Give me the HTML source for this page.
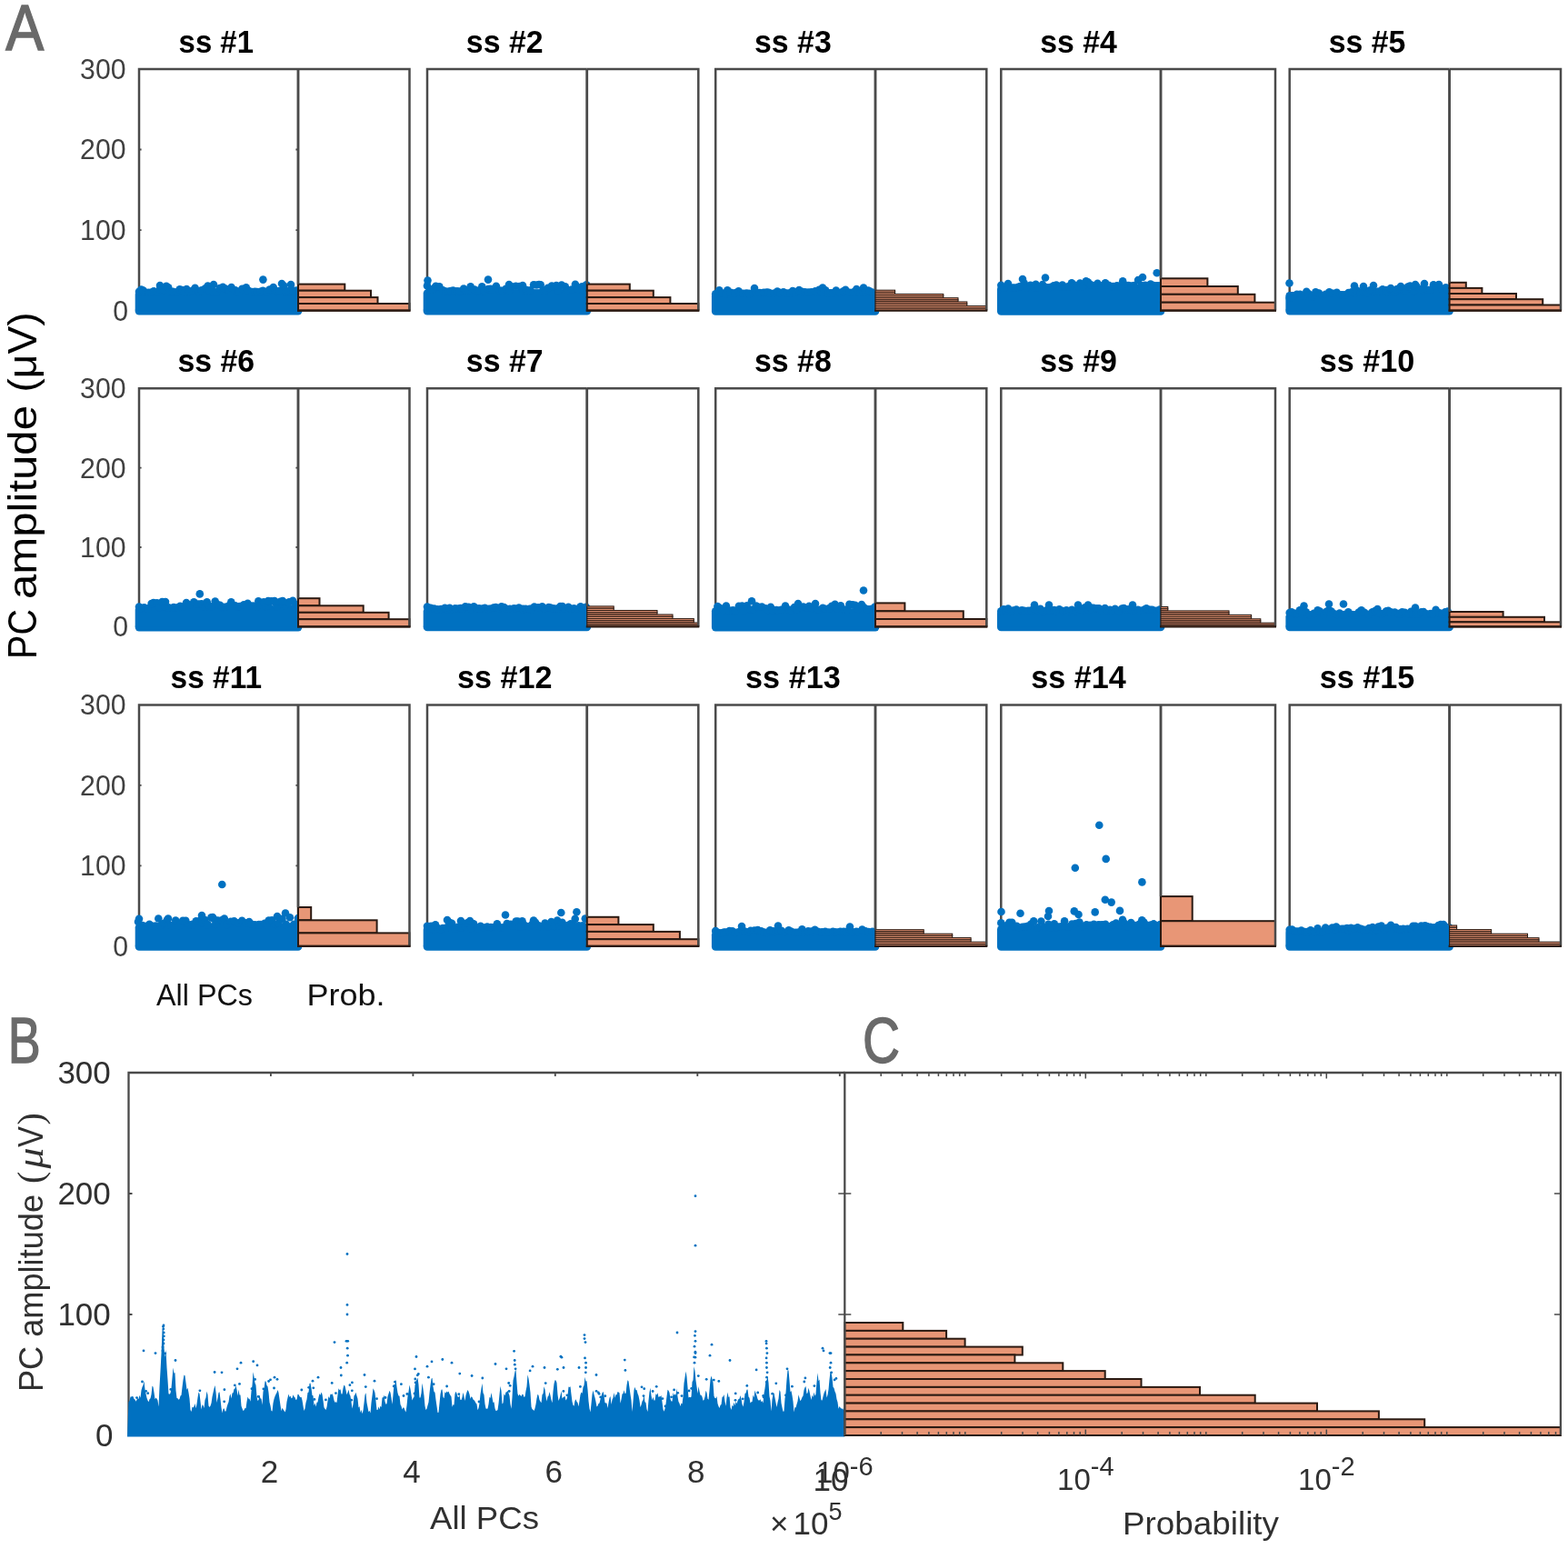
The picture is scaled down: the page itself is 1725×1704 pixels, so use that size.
<!DOCTYPE html><html><head><meta charset="utf-8"><title>Figure</title><style>html,body{margin:0;padding:0;background:#fff;}svg{display:block}.ttl{font-family:"Liberation Sans",Arial,sans-serif;font-weight:bold;font-size:35.2px;fill:#000}.tkA{font-family:"Liberation Sans",Arial,sans-serif;font-size:32px;fill:#404040}.tkB{font-family:"Liberation Sans",Arial,sans-serif;font-size:35px;fill:#303030}.tkS{font-family:"Liberation Sans",Arial,sans-serif;font-size:27px;fill:#303030}.tkC{font-family:"Liberation Sans",Arial,sans-serif;font-size:33px;fill:#303030}.tkCs{font-size:29px}.lbl{font-family:"Liberation Sans",Arial,sans-serif;font-size:34px;fill:#111}.big{font-family:"Liberation Sans",Arial,sans-serif;font-size:70px;fill:#6a6a6a;stroke:#6a6a6a;stroke-width:1.4px}.ylA{font-family:"Liberation Sans",Arial,sans-serif;font-size:43.5px;fill:#000}.ylB{font-family:"Liberation Sans",Arial,sans-serif;font-size:37px;fill:#303030}.tx{font-family:"Liberation Serif",serif;font-size:40px}</style></head><body><svg width="1725" height="1704" viewBox="0 0 1725 1704"><rect width="100%" height="100%" fill="#fff"/><text x="6.3" y="54.6" class="big" textLength="42" lengthAdjust="spacingAndGlyphs">A</text><text x="8.8" y="1168.6" class="big" textLength="36" lengthAdjust="spacingAndGlyphs">B</text><text x="949" y="1169.3" class="big" textLength="41" lengthAdjust="spacingAndGlyphs">C</text><text transform="translate(40 722.5) rotate(-90)" class="ylA" y="0"><tspan x="-2.5" textLength="55" lengthAdjust="spacingAndGlyphs">PC</tspan> <tspan x="63.5" textLength="213" lengthAdjust="spacingAndGlyphs">amplitude</tspan> <tspan x="291" textLength="88" lengthAdjust="spacingAndGlyphs">(μV)</tspan></text><path d="M153 341.6 V76 H328 M328 76 V341.6" stroke="#4a4a4a" stroke-width="2.5" fill="none"/><path d="M153 253.1 h2.6 M328 253.1 h-2.6 M153 164.5 h2.6 M328 164.5 h-2.6" stroke="#4a4a4a" stroke-width="1.8"/><rect x="148.7" y="319.5" width="183.6" height="27.1" rx="4.3" fill="#0071c1"/><polygon points="148.7,341.6 153,320.5 156,320.5 158.9,320.5 161.9,320.4 164.9,320.4 167.8,320.4 170.8,320.4 173.8,320.4 176.7,320.4 179.7,320.3 182.7,320.3 185.6,320.3 188.6,320.3 191.6,320.3 194.5,320.3 197.5,320.2 200.5,320.2 203.4,320.2 206.4,320.2 209.4,320.2 212.3,320.2 215.3,320.1 218.3,320.1 221.2,320.1 224.2,320.1 227.2,320.1 230.1,320.1 233.1,320 236.1,320 239,320 242,320 244.9,320 247.9,320 250.9,319.9 253.8,319.9 256.8,319.9 259.8,319.9 262.7,319.9 265.7,319.9 268.7,319.8 271.6,319.8 274.6,319.8 277.6,319.8 280.5,319.8 283.5,319.8 286.5,319.7 289.4,319.7 292.4,319.7 295.4,319.7 298.3,319.7 301.3,319.7 304.3,319.6 307.2,319.6 310.2,319.6 313.2,319.6 316.1,319.6 319.1,319.6 322.1,319.5 325,319.5 328,319.5 329.7,341.6" fill="#0071c1"/><g fill="#0071c1"><circle cx="153" cy="320.9" r="4.3"/><circle cx="155.4" cy="318.5" r="4.3"/><circle cx="157.6" cy="319.5" r="4.3"/><circle cx="160.5" cy="321.7" r="4.3"/><circle cx="163.7" cy="321.7" r="4.3"/><circle cx="166.8" cy="321.7" r="4.3"/><circle cx="169.1" cy="320.2" r="4.3"/><circle cx="173.1" cy="321.5" r="4.3"/><circle cx="175.7" cy="318.6" r="4.3"/><circle cx="180" cy="319" r="4.3"/><circle cx="183" cy="314.9" r="4.3"/><circle cx="185.2" cy="316.3" r="4.3"/><circle cx="187.9" cy="321.4" r="4.3"/><circle cx="190.2" cy="320.7" r="4.3"/><circle cx="194.2" cy="321.2" r="4.3"/><circle cx="197.7" cy="318.4" r="4.3"/><circle cx="200.6" cy="319.1" r="4.3"/><circle cx="202.8" cy="321.5" r="4.3"/><circle cx="205.3" cy="318" r="4.3"/><circle cx="208.3" cy="320.6" r="4.3"/><circle cx="211.8" cy="319.8" r="4.3"/><circle cx="214.6" cy="316.8" r="4.3"/><circle cx="218.3" cy="320.9" r="4.3"/><circle cx="221.7" cy="319.2" r="4.3"/><circle cx="225.9" cy="317.4" r="4.3"/><circle cx="228.6" cy="314.6" r="4.3"/><circle cx="230.9" cy="319.9" r="4.3"/><circle cx="234.8" cy="321.1" r="4.3"/><circle cx="238.1" cy="321.3" r="4.3"/><circle cx="241.7" cy="317" r="4.3"/><circle cx="245.2" cy="315.8" r="4.3"/><circle cx="247.9" cy="317.6" r="4.3"/><circle cx="251.4" cy="318.6" r="4.3"/><circle cx="254.6" cy="316.1" r="4.3"/><circle cx="258.9" cy="319.4" r="4.3"/><circle cx="262.6" cy="321.1" r="4.3"/><circle cx="266.3" cy="317.9" r="4.3"/><circle cx="270.8" cy="316.2" r="4.3"/><circle cx="273.5" cy="319.8" r="4.3"/><circle cx="277.2" cy="321.1" r="4.3"/><circle cx="280.4" cy="320.8" r="4.3"/><circle cx="282.7" cy="321" r="4.3"/><circle cx="286.6" cy="320.9" r="4.3"/><circle cx="289.2" cy="319.7" r="4.3"/><circle cx="293.4" cy="320.9" r="4.3"/><circle cx="296.5" cy="318.6" r="4.3"/><circle cx="300.7" cy="316.1" r="4.3"/><circle cx="304.9" cy="320.2" r="4.3"/><circle cx="307.9" cy="319.8" r="4.3"/><circle cx="312.1" cy="314.4" r="4.3"/><circle cx="314.5" cy="320.6" r="4.3"/><circle cx="317.1" cy="320.3" r="4.3"/><circle cx="320.3" cy="318.1" r="4.3"/><circle cx="322.9" cy="320.8" r="4.3"/><circle cx="326" cy="319.6" r="4.3"/><circle cx="289.4" cy="307.6" r="4.3"/><circle cx="310" cy="312" r="4.3"/><circle cx="320" cy="313" r="4.3"/><circle cx="176" cy="314" r="4.3"/><circle cx="235" cy="313" r="4.3"/></g><g fill="#e89676" stroke="#2b1a12" stroke-width="2"><rect x="328" y="312.6" width="51.3" height="7.1"/><rect x="328" y="319.7" width="80" height="7.4"/><rect x="328" y="327.1" width="87.5" height="6.9"/><rect x="328" y="334" width="122.5" height="7.6"/></g><path d="M328 76 H450.5 V341.6" stroke="#4a4a4a" stroke-width="2.5" fill="none"/><path d="M328 76 V312.6" stroke="#4a4a4a" stroke-width="2.5" fill="none"/><path d="M327 341.6 H451.5" stroke="#2b1a12" stroke-width="2.2"/><text x="237.8" y="57.8" text-anchor="middle" class="ttl" textLength="82.4" lengthAdjust="spacingAndGlyphs">ss #1</text><text x="141" y="352.5" text-anchor="end" class="tkA" textLength="16.8" lengthAdjust="spacingAndGlyphs">0</text><text x="138.5" y="264" text-anchor="end" class="tkA" textLength="50.4" lengthAdjust="spacingAndGlyphs">100</text><text x="138.5" y="175.4" text-anchor="end" class="tkA" textLength="50.4" lengthAdjust="spacingAndGlyphs">200</text><text x="138.5" y="86.9" text-anchor="end" class="tkA" textLength="50.4" lengthAdjust="spacingAndGlyphs">300</text><path d="M470 341.6 V76 H645.8 M645.8 76 V341.6" stroke="#4a4a4a" stroke-width="2.5" fill="none"/><rect x="465.7" y="318.2" width="184.4" height="28.4" rx="4.3" fill="#0071c1"/><polygon points="465.7,341.6 470,319.5 473,319.5 476,319.4 478.9,319.4 481.9,319.4 484.9,319.4 487.9,319.3 490.9,319.3 493.8,319.3 496.8,319.3 499.8,319.2 502.8,319.2 505.8,319.2 508.7,319.2 511.7,319.1 514.7,319.1 517.7,319.1 520.7,319.1 523.6,319 526.6,319 529.6,319 532.6,319 535.6,318.9 538.5,318.9 541.5,318.9 544.5,318.9 547.5,318.8 550.5,318.8 553.4,318.8 556.4,318.8 559.4,318.7 562.4,318.7 565.3,318.7 568.3,318.7 571.3,318.6 574.3,318.6 577.3,318.6 580.2,318.6 583.2,318.5 586.2,318.5 589.2,318.5 592.2,318.5 595.1,318.4 598.1,318.4 601.1,318.4 604.1,318.4 607.1,318.3 610,318.3 613,318.3 616,318.3 619,318.2 622,318.2 624.9,318.2 627.9,318.2 630.9,318.1 633.9,318.1 636.9,318.1 639.8,318.1 642.8,318 645.8,318 647.5,341.6" fill="#0071c1"/><g fill="#0071c1"><circle cx="470" cy="314.4" r="4.3"/><circle cx="473.7" cy="318.6" r="4.3"/><circle cx="477.3" cy="317.3" r="4.3"/><circle cx="479.4" cy="314.9" r="4.3"/><circle cx="483.4" cy="315.2" r="4.3"/><circle cx="487.3" cy="319.3" r="4.3"/><circle cx="490.3" cy="320.5" r="4.3"/><circle cx="493.9" cy="320.5" r="4.3"/><circle cx="496.1" cy="320.1" r="4.3"/><circle cx="498.5" cy="319.5" r="4.3"/><circle cx="500.6" cy="320.5" r="4.3"/><circle cx="503" cy="320.4" r="4.3"/><circle cx="505.9" cy="320.5" r="4.3"/><circle cx="510.1" cy="317.5" r="4.3"/><circle cx="512.5" cy="319.8" r="4.3"/><circle cx="515.4" cy="319.3" r="4.3"/><circle cx="517.7" cy="315.2" r="4.3"/><circle cx="522.1" cy="318.6" r="4.3"/><circle cx="525.4" cy="320.2" r="4.3"/><circle cx="527.6" cy="319.3" r="4.3"/><circle cx="530.3" cy="315.3" r="4.3"/><circle cx="532.7" cy="320.2" r="4.3"/><circle cx="537" cy="318" r="4.3"/><circle cx="539.4" cy="317.9" r="4.3"/><circle cx="541.5" cy="318" r="4.3"/><circle cx="545.9" cy="314.8" r="4.3"/><circle cx="549.7" cy="319.5" r="4.3"/><circle cx="552.6" cy="319.8" r="4.3"/><circle cx="556.5" cy="317.8" r="4.3"/><circle cx="560.5" cy="319.1" r="4.3"/><circle cx="563" cy="315.2" r="4.3"/><circle cx="567.5" cy="314.7" r="4.3"/><circle cx="571.5" cy="315" r="4.3"/><circle cx="575.3" cy="319.4" r="4.3"/><circle cx="578.6" cy="318.8" r="4.3"/><circle cx="580.7" cy="319.8" r="4.3"/><circle cx="583.4" cy="319.2" r="4.3"/><circle cx="587.1" cy="313.3" r="4.3"/><circle cx="590.3" cy="313.5" r="4.3"/><circle cx="594.7" cy="313.3" r="4.3"/><circle cx="597.6" cy="319.2" r="4.3"/><circle cx="600.2" cy="319.3" r="4.3"/><circle cx="602.7" cy="316.7" r="4.3"/><circle cx="607" cy="314.5" r="4.3"/><circle cx="610.2" cy="316.3" r="4.3"/><circle cx="614.2" cy="319.5" r="4.3"/><circle cx="617.8" cy="313.6" r="4.3"/><circle cx="621.8" cy="315.3" r="4.3"/><circle cx="625" cy="319.2" r="4.3"/><circle cx="628.9" cy="318.5" r="4.3"/><circle cx="632.9" cy="312.8" r="4.3"/><circle cx="635.9" cy="318" r="4.3"/><circle cx="640.3" cy="315.4" r="4.3"/><circle cx="642.7" cy="319.1" r="4.3"/><circle cx="645.1" cy="313.4" r="4.3"/><circle cx="470.5" cy="308.6" r="4.3"/><circle cx="537" cy="307.6" r="4.3"/><circle cx="560" cy="313" r="4.3"/><circle cx="575" cy="314" r="4.3"/><circle cx="593" cy="313" r="4.3"/><circle cx="612" cy="314" r="4.3"/></g><g fill="#e89676" stroke="#2b1a12" stroke-width="2"><rect x="645.8" y="312.6" width="47" height="7.1"/><rect x="645.8" y="319.7" width="73" height="7.4"/><rect x="645.8" y="327.1" width="91.6" height="6.9"/><rect x="645.8" y="334" width="122.5" height="7.6"/></g><path d="M645.8 76 H768.3 V341.6" stroke="#4a4a4a" stroke-width="2.5" fill="none"/><path d="M645.8 76 V312.6" stroke="#4a4a4a" stroke-width="2.5" fill="none"/><path d="M644.8 341.6 H769.3" stroke="#2b1a12" stroke-width="2.2"/><text x="555.2" y="57.8" text-anchor="middle" class="ttl" textLength="84.7" lengthAdjust="spacingAndGlyphs">ss #2</text><path d="M787.2 341.6 V76 H963 M963 76 V341.6" stroke="#4a4a4a" stroke-width="2.5" fill="none"/><rect x="782.9" y="320.8" width="184.4" height="25.9" rx="4.3" fill="#0071c1"/><polygon points="782.9,341.6 787.2,322 790.2,322 793.2,321.9 796.1,321.9 799.1,321.9 802.1,321.9 805.1,321.8 808.1,321.8 811,321.8 814,321.8 817,321.7 820,321.7 823,321.7 825.9,321.7 828.9,321.6 831.9,321.6 834.9,321.6 837.9,321.6 840.8,321.5 843.8,321.5 846.8,321.5 849.8,321.5 852.8,321.4 855.7,321.4 858.7,321.4 861.7,321.4 864.7,321.3 867.7,321.3 870.6,321.3 873.6,321.3 876.6,321.2 879.6,321.2 882.5,321.2 885.5,321.2 888.5,321.1 891.5,321.1 894.5,321.1 897.4,321.1 900.4,321 903.4,321 906.4,321 909.4,321 912.3,320.9 915.3,320.9 918.3,320.9 921.3,320.9 924.3,320.8 927.2,320.8 930.2,320.8 933.2,320.8 936.2,320.7 939.2,320.7 942.1,320.7 945.1,320.7 948.1,320.6 951.1,320.6 954.1,320.6 957,320.6 960,320.5 963,320.5 964.7,341.6" fill="#0071c1"/><g fill="#0071c1"><circle cx="787.2" cy="323.2" r="4.3"/><circle cx="791.3" cy="319.4" r="4.3"/><circle cx="794.9" cy="322.6" r="4.3"/><circle cx="798.3" cy="323.1" r="4.3"/><circle cx="800.3" cy="319.4" r="4.3"/><circle cx="803.9" cy="321.9" r="4.3"/><circle cx="808.3" cy="322.2" r="4.3"/><circle cx="812.5" cy="320.2" r="4.3"/><circle cx="815" cy="322.7" r="4.3"/><circle cx="817.7" cy="322.7" r="4.3"/><circle cx="821.2" cy="322.6" r="4.3"/><circle cx="824.2" cy="322.9" r="4.3"/><circle cx="828.5" cy="322.3" r="4.3"/><circle cx="831.6" cy="321.4" r="4.3"/><circle cx="835.9" cy="322" r="4.3"/><circle cx="840.2" cy="321.7" r="4.3"/><circle cx="843.5" cy="321.6" r="4.3"/><circle cx="845.6" cy="321.9" r="4.3"/><circle cx="848" cy="322.8" r="4.3"/><circle cx="852" cy="322.6" r="4.3"/><circle cx="855.2" cy="320.5" r="4.3"/><circle cx="858.6" cy="322.1" r="4.3"/><circle cx="861.9" cy="321.3" r="4.3"/><circle cx="865.9" cy="322.5" r="4.3"/><circle cx="869.3" cy="322.3" r="4.3"/><circle cx="872" cy="320.1" r="4.3"/><circle cx="875.2" cy="321.1" r="4.3"/><circle cx="879.1" cy="319.1" r="4.3"/><circle cx="882.2" cy="320.8" r="4.3"/><circle cx="885.5" cy="321.3" r="4.3"/><circle cx="889.2" cy="321.5" r="4.3"/><circle cx="892.6" cy="321.3" r="4.3"/><circle cx="896.9" cy="320.3" r="4.3"/><circle cx="901.1" cy="318.7" r="4.3"/><circle cx="903.8" cy="320.9" r="4.3"/><circle cx="908.1" cy="319.3" r="4.3"/><circle cx="910.5" cy="322.1" r="4.3"/><circle cx="913.6" cy="322.2" r="4.3"/><circle cx="916.2" cy="322.2" r="4.3"/><circle cx="919.8" cy="319.6" r="4.3"/><circle cx="924.1" cy="322" r="4.3"/><circle cx="927.9" cy="320.2" r="4.3"/><circle cx="930.2" cy="318.9" r="4.3"/><circle cx="934.7" cy="321.8" r="4.3"/><circle cx="939" cy="321.2" r="4.3"/><circle cx="942.3" cy="318" r="4.3"/><circle cx="946.3" cy="321.8" r="4.3"/><circle cx="949.4" cy="320.7" r="4.3"/><circle cx="952.3" cy="321.7" r="4.3"/><circle cx="955.1" cy="319.6" r="4.3"/><circle cx="957.1" cy="320.5" r="4.3"/><circle cx="960.2" cy="321.8" r="4.3"/><circle cx="905" cy="316.5" r="4.3"/><circle cx="950" cy="316.5" r="4.3"/><circle cx="830" cy="317" r="4.3"/></g><g fill="#e89676" stroke="#2b1a12" stroke-width="1.05"><rect x="963" y="319.2" width="21.6" height="2.2"/><rect x="963" y="321.4" width="21.6" height="2.1"/><rect x="963" y="323.5" width="74.8" height="2.1"/><rect x="963" y="325.6" width="74.8" height="2.1"/><rect x="963" y="327.7" width="91" height="2.2"/><rect x="963" y="329.9" width="91" height="2.1"/><rect x="963" y="332" width="100.8" height="2.3"/><rect x="963" y="334.3" width="100.8" height="2.3"/><rect x="963" y="336.6" width="122.3" height="2.5"/><rect x="963" y="339.1" width="122.3" height="2.5"/></g><path d="M963 76 H1085.3 V341.6" stroke="#4a4a4a" stroke-width="2.5" fill="none"/><path d="M963 76 V319.2" stroke="#4a4a4a" stroke-width="2.5" fill="none"/><path d="M962 341.6 H1086.3" stroke="#2b1a12" stroke-width="2.2"/><text x="872.4" y="57.8" text-anchor="middle" class="ttl" textLength="84.7" lengthAdjust="spacingAndGlyphs">ss #3</text><path d="M1101.3 341.6 V76 H1277 M1277 76 V341.6" stroke="#4a4a4a" stroke-width="2.5" fill="none"/><rect x="1097" y="313.8" width="184.3" height="32.9" rx="4.3" fill="#0071c1"/><polygon points="1097,341.6 1101.3,315.5 1104.3,315.5 1107.3,315.4 1110.2,315.4 1113.2,315.3 1116.2,315.3 1119.2,315.2 1122.1,315.2 1125.1,315.2 1128.1,315.1 1131.1,315.1 1134.1,315 1137,315 1140,314.9 1143,314.9 1146,314.9 1148.9,314.8 1151.9,314.8 1154.9,314.7 1157.9,314.7 1160.9,314.7 1163.8,314.6 1166.8,314.6 1169.8,314.5 1172.8,314.5 1175.7,314.4 1178.7,314.4 1181.7,314.4 1184.7,314.3 1187.7,314.3 1190.6,314.2 1193.6,314.2 1196.6,314.1 1199.6,314.1 1202.6,314.1 1205.5,314 1208.5,314 1211.5,313.9 1214.5,313.9 1217.4,313.8 1220.4,313.8 1223.4,313.8 1226.4,313.7 1229.4,313.7 1232.3,313.6 1235.3,313.6 1238.3,313.6 1241.3,313.5 1244.2,313.5 1247.2,313.4 1250.2,313.4 1253.2,313.3 1256.2,313.3 1259.1,313.3 1262.1,313.2 1265.1,313.2 1268.1,313.1 1271,313.1 1274,313 1277,313 1278.7,341.6" fill="#0071c1"/><g fill="#0071c1"><circle cx="1101.3" cy="313.8" r="4.3"/><circle cx="1104.6" cy="316.7" r="4.3"/><circle cx="1109" cy="312.1" r="4.3"/><circle cx="1113.5" cy="316.5" r="4.3"/><circle cx="1116.1" cy="316.6" r="4.3"/><circle cx="1120.1" cy="315.9" r="4.3"/><circle cx="1122.4" cy="315" r="4.3"/><circle cx="1126.7" cy="311.5" r="4.3"/><circle cx="1129.3" cy="316.2" r="4.3"/><circle cx="1133.6" cy="313.8" r="4.3"/><circle cx="1137.4" cy="316.2" r="4.3"/><circle cx="1139.5" cy="312.7" r="4.3"/><circle cx="1142.6" cy="316.1" r="4.3"/><circle cx="1146.9" cy="313.1" r="4.3"/><circle cx="1150.9" cy="316" r="4.3"/><circle cx="1155.1" cy="316" r="4.3"/><circle cx="1159.2" cy="314.3" r="4.3"/><circle cx="1162.1" cy="313.5" r="4.3"/><circle cx="1166.4" cy="315.2" r="4.3"/><circle cx="1168.7" cy="313.6" r="4.3"/><circle cx="1171.3" cy="315.7" r="4.3"/><circle cx="1173.7" cy="315.7" r="4.3"/><circle cx="1176.2" cy="314.9" r="4.3"/><circle cx="1179" cy="311.4" r="4.3"/><circle cx="1181.7" cy="313.6" r="4.3"/><circle cx="1184.2" cy="314.6" r="4.3"/><circle cx="1186.2" cy="315" r="4.3"/><circle cx="1188.2" cy="311.6" r="4.3"/><circle cx="1191.6" cy="315.2" r="4.3"/><circle cx="1194.8" cy="309.3" r="4.3"/><circle cx="1197.1" cy="310.5" r="4.3"/><circle cx="1200.2" cy="313.4" r="4.3"/><circle cx="1204.2" cy="314" r="4.3"/><circle cx="1207.5" cy="311.7" r="4.3"/><circle cx="1212" cy="314.2" r="4.3"/><circle cx="1216" cy="311.4" r="4.3"/><circle cx="1219.6" cy="313.7" r="4.3"/><circle cx="1222.5" cy="315" r="4.3"/><circle cx="1224.8" cy="315" r="4.3"/><circle cx="1228.7" cy="314.4" r="4.3"/><circle cx="1231.1" cy="314.9" r="4.3"/><circle cx="1235.2" cy="309.4" r="4.3"/><circle cx="1238.9" cy="314.1" r="4.3"/><circle cx="1241.5" cy="314" r="4.3"/><circle cx="1244.6" cy="314.5" r="4.3"/><circle cx="1247.7" cy="314.1" r="4.3"/><circle cx="1252.1" cy="308" r="4.3"/><circle cx="1255.5" cy="314" r="4.3"/><circle cx="1259.9" cy="313.7" r="4.3"/><circle cx="1262.8" cy="314.5" r="4.3"/><circle cx="1265.8" cy="312.6" r="4.3"/><circle cx="1269" cy="314" r="4.3"/><circle cx="1272.3" cy="314.4" r="4.3"/><circle cx="1274.9" cy="314.2" r="4.3"/><circle cx="1272.7" cy="300.2" r="4.3"/><circle cx="1150" cy="305.5" r="4.3"/><circle cx="1125" cy="307" r="4.3"/><circle cx="1257" cy="305" r="4.3"/></g><g fill="#e89676" stroke="#2b1a12" stroke-width="2"><rect x="1277" y="306.3" width="51.4" height="8.7"/><rect x="1277" y="315" width="84.8" height="8.8"/><rect x="1277" y="323.8" width="103.4" height="8.9"/><rect x="1277" y="332.7" width="126" height="8.9"/></g><path d="M1277 76 H1403 V341.6" stroke="#4a4a4a" stroke-width="2.5" fill="none"/><path d="M1277 76 V306.3" stroke="#4a4a4a" stroke-width="2.5" fill="none"/><path d="M1276 341.6 H1404" stroke="#2b1a12" stroke-width="2.2"/><text x="1186.5" y="57.8" text-anchor="middle" class="ttl" textLength="84.7" lengthAdjust="spacingAndGlyphs">ss #4</text><path d="M1418.7 341.6 V76 H1594.6 M1594.6 76 V341.6" stroke="#4a4a4a" stroke-width="2.5" fill="none"/><rect x="1414.4" y="321" width="184.5" height="25.6" rx="4.3" fill="#0071c1"/><polygon points="1414.4,341.6 1418.7,326.5 1421.7,326.3 1424.7,326.2 1427.6,326 1430.6,325.8 1433.6,325.7 1436.6,325.5 1439.6,325.3 1442.6,325.1 1445.5,325 1448.5,324.8 1451.5,324.6 1454.5,324.5 1457.5,324.3 1460.4,324.1 1463.4,324 1466.4,323.8 1469.4,323.6 1472.4,323.4 1475.3,323.3 1478.3,323.1 1481.3,322.9 1484.3,322.8 1487.3,322.6 1490.3,322.4 1493.2,322.3 1496.2,322.1 1499.2,321.9 1502.2,321.8 1505.2,321.6 1508.1,321.4 1511.1,321.2 1514.1,321.1 1517.1,320.9 1520.1,320.7 1523,320.6 1526,320.4 1529,320.2 1532,320.1 1535,319.9 1538,319.7 1540.9,319.6 1543.9,319.4 1546.9,319.2 1549.9,319 1552.9,318.9 1555.8,318.7 1558.8,318.5 1561.8,318.4 1564.8,318.2 1567.8,318 1570.7,317.9 1573.7,317.7 1576.7,317.5 1579.7,317.3 1582.7,317.2 1585.7,317 1588.6,316.8 1591.6,316.7 1594.6,316.5 1596.3,341.6" fill="#0071c1"/><g fill="#0071c1"><circle cx="1418.7" cy="327.8" r="4.3"/><circle cx="1420.8" cy="327" r="4.3"/><circle cx="1423.3" cy="325.2" r="4.3"/><circle cx="1426.7" cy="323.8" r="4.3"/><circle cx="1430.3" cy="323.8" r="4.3"/><circle cx="1434.5" cy="325.8" r="4.3"/><circle cx="1437.3" cy="320.9" r="4.3"/><circle cx="1439.7" cy="323.2" r="4.3"/><circle cx="1443.3" cy="326.4" r="4.3"/><circle cx="1447.4" cy="321.3" r="4.3"/><circle cx="1451" cy="322.5" r="4.3"/><circle cx="1455" cy="325.6" r="4.3"/><circle cx="1458.3" cy="323.8" r="4.3"/><circle cx="1462.4" cy="321.2" r="4.3"/><circle cx="1466.4" cy="322.8" r="4.3"/><circle cx="1470.7" cy="321.8" r="4.3"/><circle cx="1474.4" cy="324.2" r="4.3"/><circle cx="1476.5" cy="324.3" r="4.3"/><circle cx="1479.4" cy="324.2" r="4.3"/><circle cx="1483.5" cy="322" r="4.3"/><circle cx="1487.1" cy="321.3" r="4.3"/><circle cx="1490.8" cy="322" r="4.3"/><circle cx="1492.8" cy="319.6" r="4.3"/><circle cx="1496.6" cy="321.6" r="4.3"/><circle cx="1500" cy="320.3" r="4.3"/><circle cx="1502.1" cy="319.6" r="4.3"/><circle cx="1504.8" cy="322.8" r="4.3"/><circle cx="1507.4" cy="319.3" r="4.3"/><circle cx="1509.9" cy="319.1" r="4.3"/><circle cx="1514.4" cy="320.7" r="4.3"/><circle cx="1517.3" cy="320.6" r="4.3"/><circle cx="1521" cy="318.2" r="4.3"/><circle cx="1524.6" cy="319.1" r="4.3"/><circle cx="1526.8" cy="321.5" r="4.3"/><circle cx="1529.4" cy="318" r="4.3"/><circle cx="1532.2" cy="319.2" r="4.3"/><circle cx="1534.2" cy="321.2" r="4.3"/><circle cx="1536.9" cy="318.1" r="4.3"/><circle cx="1540.6" cy="317.9" r="4.3"/><circle cx="1543.3" cy="318.9" r="4.3"/><circle cx="1546.5" cy="319" r="4.3"/><circle cx="1548.8" cy="315.5" r="4.3"/><circle cx="1551.3" cy="314.5" r="4.3"/><circle cx="1555.6" cy="320" r="4.3"/><circle cx="1558.8" cy="315.6" r="4.3"/><circle cx="1563.2" cy="318.2" r="4.3"/><circle cx="1565.9" cy="319.1" r="4.3"/><circle cx="1570.2" cy="318.8" r="4.3"/><circle cx="1573.7" cy="318.8" r="4.3"/><circle cx="1577" cy="313.3" r="4.3"/><circle cx="1579.3" cy="314.5" r="4.3"/><circle cx="1582.6" cy="313.6" r="4.3"/><circle cx="1586.4" cy="317.8" r="4.3"/><circle cx="1590.6" cy="316.4" r="4.3"/><circle cx="1592.7" cy="317.9" r="4.3"/><circle cx="1418.5" cy="311.5" r="4.3"/><circle cx="1490" cy="314.5" r="4.3"/><circle cx="1500" cy="315" r="4.3"/><circle cx="1511" cy="314" r="4.3"/><circle cx="1530" cy="317" r="4.3"/><circle cx="1541" cy="315" r="4.3"/><circle cx="1557" cy="313" r="4.3"/><circle cx="1567" cy="312" r="4.3"/><circle cx="1583" cy="313" r="4.3"/></g><g fill="#e89676" stroke="#2b1a12" stroke-width="2"><rect x="1594.6" y="310.8" width="18.2" height="6.1"/><rect x="1594.6" y="316.9" width="35.8" height="6.1"/><rect x="1594.6" y="323" width="73.4" height="6.2"/><rect x="1594.6" y="329.2" width="102.6" height="6.3"/><rect x="1594.6" y="335.5" width="122.4" height="6.1"/></g><path d="M1594.6 76 H1717 V341.6" stroke="#4a4a4a" stroke-width="2.5" fill="none"/><path d="M1594.6 76 V310.8" stroke="#4a4a4a" stroke-width="2.5" fill="none"/><path d="M1593.6 341.6 H1718" stroke="#2b1a12" stroke-width="2.2"/><text x="1504" y="57.8" text-anchor="middle" class="ttl" textLength="84.7" lengthAdjust="spacingAndGlyphs">ss #5</text><path d="M153 689.4 V427.3 H328 M328 427.3 V689.4" stroke="#4a4a4a" stroke-width="2.5" fill="none"/><path d="M153 602 h2.6 M328 602 h-2.6 M153 514.7 h2.6 M328 514.7 h-2.6" stroke="#4a4a4a" stroke-width="1.8"/><rect x="148.7" y="666.5" width="183.6" height="27.9" rx="4.3" fill="#0071c1"/><polygon points="148.7,689.4 153,668 156,668 158.9,667.9 161.9,667.9 164.9,667.9 167.8,667.8 170.8,667.8 173.8,667.8 176.7,667.7 179.7,667.7 182.7,667.7 185.6,667.6 188.6,667.6 191.6,667.6 194.5,667.5 197.5,667.5 200.5,667.5 203.4,667.4 206.4,667.4 209.4,667.4 212.3,667.3 215.3,667.3 218.3,667.3 221.2,667.2 224.2,667.2 227.2,667.2 230.1,667.1 233.1,667.1 236.1,667.1 239,667 242,667 244.9,666.9 247.9,666.9 250.9,666.9 253.8,666.8 256.8,666.8 259.8,666.8 262.7,666.7 265.7,666.7 268.7,666.7 271.6,666.6 274.6,666.6 277.6,666.6 280.5,666.5 283.5,666.5 286.5,666.5 289.4,666.4 292.4,666.4 295.4,666.4 298.3,666.3 301.3,666.3 304.3,666.3 307.2,666.2 310.2,666.2 313.2,666.2 316.1,666.1 319.1,666.1 322.1,666.1 325,666 328,666 329.7,689.4" fill="#0071c1"/><g fill="#0071c1"><circle cx="153" cy="667.6" r="4.3"/><circle cx="155.8" cy="669.1" r="4.3"/><circle cx="158.6" cy="668.3" r="4.3"/><circle cx="162.7" cy="669.2" r="4.3"/><circle cx="166.6" cy="664" r="4.3"/><circle cx="168.9" cy="663" r="4.3"/><circle cx="172.7" cy="663.3" r="4.3"/><circle cx="175.4" cy="667.9" r="4.3"/><circle cx="178.4" cy="662" r="4.3"/><circle cx="181.9" cy="667.8" r="4.3"/><circle cx="184.9" cy="668.2" r="4.3"/><circle cx="187" cy="668.8" r="4.3"/><circle cx="191.1" cy="668.1" r="4.3"/><circle cx="195.5" cy="668.2" r="4.3"/><circle cx="198.1" cy="666.7" r="4.3"/><circle cx="200.6" cy="667.6" r="4.3"/><circle cx="205" cy="663.1" r="4.3"/><circle cx="209" cy="665.6" r="4.3"/><circle cx="213.3" cy="662.3" r="4.3"/><circle cx="216.7" cy="664.7" r="4.3"/><circle cx="218.8" cy="664.5" r="4.3"/><circle cx="221.9" cy="664.3" r="4.3"/><circle cx="225.5" cy="667.7" r="4.3"/><circle cx="227.7" cy="662.3" r="4.3"/><circle cx="230" cy="666.6" r="4.3"/><circle cx="232.8" cy="667.6" r="4.3"/><circle cx="236.7" cy="661.6" r="4.3"/><circle cx="239.3" cy="665" r="4.3"/><circle cx="242.1" cy="665.8" r="4.3"/><circle cx="245.1" cy="668" r="4.3"/><circle cx="247.5" cy="667.8" r="4.3"/><circle cx="251.8" cy="666.2" r="4.3"/><circle cx="254.3" cy="662.3" r="4.3"/><circle cx="258.8" cy="666.4" r="4.3"/><circle cx="261.1" cy="667.7" r="4.3"/><circle cx="263.4" cy="667" r="4.3"/><circle cx="265.6" cy="667.5" r="4.3"/><circle cx="268.2" cy="665.4" r="4.3"/><circle cx="272.5" cy="663.8" r="4.3"/><circle cx="275.5" cy="666.5" r="4.3"/><circle cx="278.8" cy="666.6" r="4.3"/><circle cx="281.7" cy="667.8" r="4.3"/><circle cx="284.3" cy="661.2" r="4.3"/><circle cx="286.7" cy="665.7" r="4.3"/><circle cx="290.2" cy="662.4" r="4.3"/><circle cx="292.8" cy="667" r="4.3"/><circle cx="295.4" cy="666.3" r="4.3"/><circle cx="298.5" cy="661.2" r="4.3"/><circle cx="302.6" cy="662.1" r="4.3"/><circle cx="304.7" cy="667.5" r="4.3"/><circle cx="308.5" cy="661.8" r="4.3"/><circle cx="311.6" cy="664.8" r="4.3"/><circle cx="313.6" cy="666.2" r="4.3"/><circle cx="318" cy="662.4" r="4.3"/><circle cx="322.1" cy="660.7" r="4.3"/><circle cx="324.7" cy="667.2" r="4.3"/><circle cx="327.1" cy="665.1" r="4.3"/><circle cx="219.8" cy="653.4" r="4.3"/><circle cx="311" cy="661" r="4.3"/><circle cx="182" cy="662" r="4.3"/><circle cx="295" cy="661" r="4.3"/><circle cx="302" cy="661" r="4.3"/></g><g fill="#e89676" stroke="#2b1a12" stroke-width="2"><rect x="328" y="658.2" width="23.5" height="8.1"/><rect x="328" y="666.3" width="71.7" height="7.5"/><rect x="328" y="673.8" width="99.6" height="7.4"/><rect x="328" y="681.2" width="122.5" height="8.2"/></g><path d="M328 427.3 H450.5 V689.4" stroke="#4a4a4a" stroke-width="2.5" fill="none"/><path d="M328 427.3 V658.2" stroke="#4a4a4a" stroke-width="2.5" fill="none"/><path d="M327 689.4 H451.5" stroke="#2b1a12" stroke-width="2.2"/><text x="237.8" y="409.1" text-anchor="middle" class="ttl" textLength="84.7" lengthAdjust="spacingAndGlyphs">ss #6</text><text x="141" y="700.3" text-anchor="end" class="tkA" textLength="16.8" lengthAdjust="spacingAndGlyphs">0</text><text x="138.5" y="612.9" text-anchor="end" class="tkA" textLength="50.4" lengthAdjust="spacingAndGlyphs">100</text><text x="138.5" y="525.6" text-anchor="end" class="tkA" textLength="50.4" lengthAdjust="spacingAndGlyphs">200</text><text x="138.5" y="438.2" text-anchor="end" class="tkA" textLength="50.4" lengthAdjust="spacingAndGlyphs">300</text><path d="M470 689.4 V427.3 H645.8 M645.8 427.3 V689.4" stroke="#4a4a4a" stroke-width="2.5" fill="none"/><rect x="465.7" y="668.2" width="184.4" height="26.1" rx="4.3" fill="#0071c1"/><polygon points="465.7,689.4 470,669 473,669 476,669 478.9,669 481.9,669 484.9,669 487.9,668.9 490.9,668.9 493.8,668.9 496.8,668.9 499.8,668.9 502.8,668.9 505.8,668.9 508.7,668.9 511.7,668.9 514.7,668.9 517.7,668.9 520.7,668.9 523.6,668.8 526.6,668.8 529.6,668.8 532.6,668.8 535.6,668.8 538.5,668.8 541.5,668.8 544.5,668.8 547.5,668.8 550.5,668.8 553.4,668.8 556.4,668.8 559.4,668.7 562.4,668.7 565.3,668.7 568.3,668.7 571.3,668.7 574.3,668.7 577.3,668.7 580.2,668.7 583.2,668.7 586.2,668.7 589.2,668.7 592.2,668.7 595.1,668.6 598.1,668.6 601.1,668.6 604.1,668.6 607.1,668.6 610,668.6 613,668.6 616,668.6 619,668.6 622,668.6 624.9,668.6 627.9,668.6 630.9,668.5 633.9,668.5 636.9,668.5 639.8,668.5 642.8,668.5 645.8,668.5 647.5,689.4" fill="#0071c1"/><g fill="#0071c1"><circle cx="470" cy="667.6" r="4.3"/><circle cx="473.8" cy="668.9" r="4.3"/><circle cx="477.7" cy="669.5" r="4.3"/><circle cx="481.1" cy="670.2" r="4.3"/><circle cx="485.1" cy="670" r="4.3"/><circle cx="489.4" cy="668.9" r="4.3"/><circle cx="492.1" cy="670.2" r="4.3"/><circle cx="494.7" cy="668.9" r="4.3"/><circle cx="498.5" cy="670.2" r="4.3"/><circle cx="500.7" cy="669.3" r="4.3"/><circle cx="504.1" cy="669.6" r="4.3"/><circle cx="506.7" cy="669" r="4.3"/><circle cx="508.7" cy="669.8" r="4.3"/><circle cx="511.9" cy="667.4" r="4.3"/><circle cx="515.5" cy="667.8" r="4.3"/><circle cx="518.7" cy="669.9" r="4.3"/><circle cx="521.3" cy="667.4" r="4.3"/><circle cx="525" cy="669.8" r="4.3"/><circle cx="527.1" cy="669.3" r="4.3"/><circle cx="530.8" cy="669.5" r="4.3"/><circle cx="533.4" cy="668.7" r="4.3"/><circle cx="537.7" cy="669.9" r="4.3"/><circle cx="539.8" cy="669.7" r="4.3"/><circle cx="542.9" cy="668.6" r="4.3"/><circle cx="545.4" cy="668.1" r="4.3"/><circle cx="549.2" cy="669.2" r="4.3"/><circle cx="551.7" cy="667.2" r="4.3"/><circle cx="554.5" cy="668" r="4.3"/><circle cx="557.1" cy="669.8" r="4.3"/><circle cx="561" cy="669.7" r="4.3"/><circle cx="565.4" cy="669.2" r="4.3"/><circle cx="567.8" cy="669.8" r="4.3"/><circle cx="570.9" cy="668.6" r="4.3"/><circle cx="575.2" cy="669.9" r="4.3"/><circle cx="578.2" cy="669.8" r="4.3"/><circle cx="582.7" cy="669.9" r="4.3"/><circle cx="584.8" cy="669.9" r="4.3"/><circle cx="587.8" cy="667.5" r="4.3"/><circle cx="592" cy="668.2" r="4.3"/><circle cx="596.5" cy="667.3" r="4.3"/><circle cx="599.3" cy="669.8" r="4.3"/><circle cx="603.6" cy="668.1" r="4.3"/><circle cx="605.7" cy="668.5" r="4.3"/><circle cx="608.7" cy="669.4" r="4.3"/><circle cx="611.5" cy="669.8" r="4.3"/><circle cx="613.5" cy="669.6" r="4.3"/><circle cx="616.4" cy="667.1" r="4.3"/><circle cx="618.7" cy="667.1" r="4.3"/><circle cx="621.2" cy="669.4" r="4.3"/><circle cx="625.3" cy="667.7" r="4.3"/><circle cx="628.3" cy="669.8" r="4.3"/><circle cx="631.5" cy="669.3" r="4.3"/><circle cx="635.8" cy="669.7" r="4.3"/><circle cx="638.7" cy="667.3" r="4.3"/><circle cx="640.8" cy="669.2" r="4.3"/><circle cx="644.8" cy="667.9" r="4.3"/></g><g fill="#e89676" stroke="#2b1a12" stroke-width="1.05"><rect x="645.8" y="666.9" width="29.4" height="2.3"/><rect x="645.8" y="669.2" width="29.4" height="2.3"/><rect x="645.8" y="671.5" width="77.2" height="2.2"/><rect x="645.8" y="673.8" width="77.2" height="2.2"/><rect x="645.8" y="676" width="94.2" height="2.3"/><rect x="645.8" y="678.3" width="94.2" height="2.3"/><rect x="645.8" y="680.6" width="117.5" height="2.2"/><rect x="645.8" y="682.8" width="117.5" height="2.2"/><rect x="645.8" y="685" width="122.5" height="2.2"/><rect x="645.8" y="687.2" width="122.5" height="2.2"/></g><path d="M645.8 427.3 H768.3 V689.4" stroke="#4a4a4a" stroke-width="2.5" fill="none"/><path d="M645.8 427.3 V666.9" stroke="#4a4a4a" stroke-width="2.5" fill="none"/><path d="M644.8 689.4 H769.3" stroke="#2b1a12" stroke-width="2.2"/><text x="555.2" y="409.1" text-anchor="middle" class="ttl" textLength="84.7" lengthAdjust="spacingAndGlyphs">ss #7</text><path d="M787.2 689.4 V427.3 H963 M963 427.3 V689.4" stroke="#4a4a4a" stroke-width="2.5" fill="none"/><rect x="782.9" y="669.5" width="184.4" height="24.9" rx="4.3" fill="#0071c1"/><polygon points="782.9,689.4 787.2,671 790.2,671 793.2,670.9 796.1,670.9 799.1,670.9 802.1,670.8 805.1,670.8 808.1,670.8 811,670.7 814,670.7 817,670.7 820,670.6 823,670.6 825.9,670.6 828.9,670.5 831.9,670.5 834.9,670.5 837.9,670.4 840.8,670.4 843.8,670.4 846.8,670.3 849.8,670.3 852.8,670.3 855.7,670.2 858.7,670.2 861.7,670.2 864.7,670.1 867.7,670.1 870.6,670.1 873.6,670 876.6,670 879.6,669.9 882.5,669.9 885.5,669.9 888.5,669.8 891.5,669.8 894.5,669.8 897.4,669.7 900.4,669.7 903.4,669.7 906.4,669.6 909.4,669.6 912.3,669.6 915.3,669.5 918.3,669.5 921.3,669.5 924.3,669.4 927.2,669.4 930.2,669.4 933.2,669.3 936.2,669.3 939.2,669.3 942.1,669.2 945.1,669.2 948.1,669.2 951.1,669.1 954.1,669.1 957,669.1 960,669 963,669 964.7,689.4" fill="#0071c1"/><g fill="#0071c1"><circle cx="787.2" cy="672.3" r="4.3"/><circle cx="789.4" cy="667.1" r="4.3"/><circle cx="792" cy="668.7" r="4.3"/><circle cx="796.2" cy="671.3" r="4.3"/><circle cx="798.9" cy="666.6" r="4.3"/><circle cx="802.5" cy="671.6" r="4.3"/><circle cx="806.3" cy="671.3" r="4.3"/><circle cx="808.9" cy="672" r="4.3"/><circle cx="812.8" cy="666.9" r="4.3"/><circle cx="816.4" cy="666.6" r="4.3"/><circle cx="818.5" cy="671.5" r="4.3"/><circle cx="821.7" cy="666.4" r="4.3"/><circle cx="826.1" cy="670.8" r="4.3"/><circle cx="828.7" cy="670.5" r="4.3"/><circle cx="831.9" cy="666.5" r="4.3"/><circle cx="834.4" cy="667.7" r="4.3"/><circle cx="838.2" cy="667.5" r="4.3"/><circle cx="842.2" cy="669.2" r="4.3"/><circle cx="845" cy="670.9" r="4.3"/><circle cx="847.9" cy="667.7" r="4.3"/><circle cx="850.1" cy="671.3" r="4.3"/><circle cx="854" cy="671" r="4.3"/><circle cx="856.1" cy="671.5" r="4.3"/><circle cx="859.5" cy="670.7" r="4.3"/><circle cx="864" cy="666.6" r="4.3"/><circle cx="868.4" cy="670.8" r="4.3"/><circle cx="870.6" cy="671.3" r="4.3"/><circle cx="873.9" cy="668.1" r="4.3"/><circle cx="877" cy="670.8" r="4.3"/><circle cx="880" cy="668.7" r="4.3"/><circle cx="883.7" cy="667.6" r="4.3"/><circle cx="887.8" cy="668.3" r="4.3"/><circle cx="890.1" cy="666.7" r="4.3"/><circle cx="892.9" cy="668.9" r="4.3"/><circle cx="895.8" cy="667.6" r="4.3"/><circle cx="898.3" cy="670.5" r="4.3"/><circle cx="900.9" cy="670.8" r="4.3"/><circle cx="905.1" cy="668.7" r="4.3"/><circle cx="907.9" cy="669.8" r="4.3"/><circle cx="912.4" cy="669.1" r="4.3"/><circle cx="915" cy="666.7" r="4.3"/><circle cx="918.6" cy="664.9" r="4.3"/><circle cx="920.9" cy="669.2" r="4.3"/><circle cx="924.9" cy="666.3" r="4.3"/><circle cx="929.2" cy="670.7" r="4.3"/><circle cx="932" cy="670.5" r="4.3"/><circle cx="934.4" cy="664.9" r="4.3"/><circle cx="937.9" cy="665.3" r="4.3"/><circle cx="940.8" cy="665.9" r="4.3"/><circle cx="943.9" cy="670" r="4.3"/><circle cx="947.9" cy="665" r="4.3"/><circle cx="950.2" cy="668.1" r="4.3"/><circle cx="953.7" cy="670" r="4.3"/><circle cx="956.6" cy="670.2" r="4.3"/><circle cx="959.1" cy="669.8" r="4.3"/><circle cx="962.6" cy="667.5" r="4.3"/><circle cx="827" cy="661.2" r="4.3"/><circle cx="950" cy="649.5" r="4.3"/><circle cx="897" cy="664" r="4.3"/><circle cx="878" cy="664" r="4.3"/></g><g fill="#e89676" stroke="#2b1a12" stroke-width="2"><rect x="963" y="663.4" width="32.4" height="8.9"/><rect x="963" y="672.3" width="96.8" height="8.7"/><rect x="963" y="681" width="122.3" height="8.4"/></g><path d="M963 427.3 H1085.3 V689.4" stroke="#4a4a4a" stroke-width="2.5" fill="none"/><path d="M963 427.3 V663.4" stroke="#4a4a4a" stroke-width="2.5" fill="none"/><path d="M962 689.4 H1086.3" stroke="#2b1a12" stroke-width="2.2"/><text x="872.4" y="409.1" text-anchor="middle" class="ttl" textLength="84.7" lengthAdjust="spacingAndGlyphs">ss #8</text><path d="M1101.3 689.4 V427.3 H1277 M1277 427.3 V689.4" stroke="#4a4a4a" stroke-width="2.5" fill="none"/><rect x="1097" y="670.2" width="184.3" height="24.1" rx="4.3" fill="#0071c1"/><polygon points="1097,689.4 1101.3,671 1104.3,671 1107.3,671 1110.2,671 1113.2,671 1116.2,671 1119.2,670.9 1122.1,670.9 1125.1,670.9 1128.1,670.9 1131.1,670.9 1134.1,670.9 1137,670.9 1140,670.9 1143,670.9 1146,670.9 1148.9,670.9 1151.9,670.9 1154.9,670.8 1157.9,670.8 1160.9,670.8 1163.8,670.8 1166.8,670.8 1169.8,670.8 1172.8,670.8 1175.7,670.8 1178.7,670.8 1181.7,670.8 1184.7,670.8 1187.7,670.8 1190.6,670.7 1193.6,670.7 1196.6,670.7 1199.6,670.7 1202.6,670.7 1205.5,670.7 1208.5,670.7 1211.5,670.7 1214.5,670.7 1217.4,670.7 1220.4,670.7 1223.4,670.7 1226.4,670.6 1229.4,670.6 1232.3,670.6 1235.3,670.6 1238.3,670.6 1241.3,670.6 1244.2,670.6 1247.2,670.6 1250.2,670.6 1253.2,670.6 1256.2,670.6 1259.1,670.6 1262.1,670.5 1265.1,670.5 1268.1,670.5 1271,670.5 1274,670.5 1277,670.5 1278.7,689.4" fill="#0071c1"/><g fill="#0071c1"><circle cx="1101.3" cy="672.3" r="4.3"/><circle cx="1104.1" cy="670.3" r="4.3"/><circle cx="1106.6" cy="671.8" r="4.3"/><circle cx="1109.1" cy="669.6" r="4.3"/><circle cx="1112.5" cy="672.2" r="4.3"/><circle cx="1114.7" cy="671.5" r="4.3"/><circle cx="1118.1" cy="670.5" r="4.3"/><circle cx="1120.3" cy="672.1" r="4.3"/><circle cx="1124.1" cy="671.4" r="4.3"/><circle cx="1126.8" cy="671.7" r="4.3"/><circle cx="1131.1" cy="671.7" r="4.3"/><circle cx="1134.6" cy="671.6" r="4.3"/><circle cx="1137.6" cy="669.1" r="4.3"/><circle cx="1142.1" cy="671.5" r="4.3"/><circle cx="1144.6" cy="669.9" r="4.3"/><circle cx="1147.1" cy="672.2" r="4.3"/><circle cx="1151.4" cy="671.3" r="4.3"/><circle cx="1155.4" cy="671.3" r="4.3"/><circle cx="1159.6" cy="671.1" r="4.3"/><circle cx="1162" cy="672.1" r="4.3"/><circle cx="1165.4" cy="670.3" r="4.3"/><circle cx="1169.7" cy="672" r="4.3"/><circle cx="1173.2" cy="671.4" r="4.3"/><circle cx="1176.5" cy="672" r="4.3"/><circle cx="1179.2" cy="670.8" r="4.3"/><circle cx="1183.5" cy="672" r="4.3"/><circle cx="1186.7" cy="669.3" r="4.3"/><circle cx="1191.2" cy="671.8" r="4.3"/><circle cx="1193.5" cy="668.4" r="4.3"/><circle cx="1197.9" cy="670.9" r="4.3"/><circle cx="1200" cy="668.5" r="4.3"/><circle cx="1203" cy="668.7" r="4.3"/><circle cx="1206.6" cy="669.2" r="4.3"/><circle cx="1209" cy="669.4" r="4.3"/><circle cx="1211.5" cy="671.2" r="4.3"/><circle cx="1215.6" cy="669.1" r="4.3"/><circle cx="1218.1" cy="671.7" r="4.3"/><circle cx="1221.1" cy="670.7" r="4.3"/><circle cx="1224" cy="671.8" r="4.3"/><circle cx="1226.7" cy="669.7" r="4.3"/><circle cx="1230.9" cy="671.9" r="4.3"/><circle cx="1234.3" cy="669.5" r="4.3"/><circle cx="1236.4" cy="669" r="4.3"/><circle cx="1238.7" cy="670.3" r="4.3"/><circle cx="1242.1" cy="670.2" r="4.3"/><circle cx="1244.8" cy="671" r="4.3"/><circle cx="1248.3" cy="671" r="4.3"/><circle cx="1251.9" cy="670.9" r="4.3"/><circle cx="1255" cy="671.8" r="4.3"/><circle cx="1258.6" cy="670.7" r="4.3"/><circle cx="1261.2" cy="669.4" r="4.3"/><circle cx="1265.1" cy="670.8" r="4.3"/><circle cx="1267.6" cy="670.8" r="4.3"/><circle cx="1269.8" cy="671.7" r="4.3"/><circle cx="1272.9" cy="671.7" r="4.3"/><circle cx="1276" cy="670.6" r="4.3"/><circle cx="1138" cy="665.5" r="4.3"/><circle cx="1154" cy="665.5" r="4.3"/><circle cx="1186" cy="665.5" r="4.3"/><circle cx="1197" cy="665.5" r="4.3"/><circle cx="1246" cy="665.5" r="4.3"/></g><g fill="#e89676" stroke="#2b1a12" stroke-width="1.05"><rect x="1277" y="667.5" width="7.8" height="2.2"/><rect x="1277" y="669.7" width="7.8" height="2.2"/><rect x="1277" y="671.9" width="75" height="2.2"/><rect x="1277" y="674.1" width="75" height="2.2"/><rect x="1277" y="676.4" width="99.6" height="2.2"/><rect x="1277" y="678.6" width="99.6" height="2.2"/><rect x="1277" y="680.8" width="109.8" height="2.2"/><rect x="1277" y="683" width="109.8" height="2.2"/><rect x="1277" y="685.2" width="126" height="2.1"/><rect x="1277" y="687.3" width="126" height="2.1"/></g><path d="M1277 427.3 H1403 V689.4" stroke="#4a4a4a" stroke-width="2.5" fill="none"/><path d="M1277 427.3 V667.5" stroke="#4a4a4a" stroke-width="2.5" fill="none"/><path d="M1276 689.4 H1404" stroke="#2b1a12" stroke-width="2.2"/><text x="1186.5" y="409.1" text-anchor="middle" class="ttl" textLength="84.7" lengthAdjust="spacingAndGlyphs">ss #9</text><path d="M1418.7 689.4 V427.3 H1594.6 M1594.6 427.3 V689.4" stroke="#4a4a4a" stroke-width="2.5" fill="none"/><rect x="1414.4" y="674.2" width="184.5" height="20.1" rx="4.3" fill="#0071c1"/><polygon points="1414.4,689.4 1418.7,675.5 1421.7,675.5 1424.7,675.4 1427.6,675.4 1430.6,675.4 1433.6,675.4 1436.6,675.3 1439.6,675.3 1442.6,675.3 1445.5,675.3 1448.5,675.2 1451.5,675.2 1454.5,675.2 1457.5,675.2 1460.4,675.1 1463.4,675.1 1466.4,675.1 1469.4,675.1 1472.4,675 1475.3,675 1478.3,675 1481.3,675 1484.3,674.9 1487.3,674.9 1490.3,674.9 1493.2,674.9 1496.2,674.8 1499.2,674.8 1502.2,674.8 1505.2,674.8 1508.1,674.7 1511.1,674.7 1514.1,674.7 1517.1,674.7 1520.1,674.6 1523,674.6 1526,674.6 1529,674.6 1532,674.5 1535,674.5 1538,674.5 1540.9,674.5 1543.9,674.4 1546.9,674.4 1549.9,674.4 1552.9,674.4 1555.8,674.3 1558.8,674.3 1561.8,674.3 1564.8,674.3 1567.8,674.2 1570.7,674.2 1573.7,674.2 1576.7,674.2 1579.7,674.1 1582.7,674.1 1585.7,674.1 1588.6,674.1 1591.6,674 1594.6,674 1596.3,689.4" fill="#0071c1"/><g fill="#0071c1"><circle cx="1418.7" cy="674.1" r="4.3"/><circle cx="1420.9" cy="673.3" r="4.3"/><circle cx="1424.8" cy="674.9" r="4.3"/><circle cx="1427" cy="675" r="4.3"/><circle cx="1429.9" cy="671.2" r="4.3"/><circle cx="1432.3" cy="672.1" r="4.3"/><circle cx="1436.8" cy="673.2" r="4.3"/><circle cx="1440.8" cy="676.3" r="4.3"/><circle cx="1445.3" cy="674.9" r="4.3"/><circle cx="1449.6" cy="671.4" r="4.3"/><circle cx="1452.1" cy="672.6" r="4.3"/><circle cx="1456.4" cy="676.4" r="4.3"/><circle cx="1459.3" cy="672.8" r="4.3"/><circle cx="1461.7" cy="671.5" r="4.3"/><circle cx="1464.3" cy="672.2" r="4.3"/><circle cx="1466.7" cy="674.6" r="4.3"/><circle cx="1471" cy="676" r="4.3"/><circle cx="1473.7" cy="674.6" r="4.3"/><circle cx="1476.5" cy="676.3" r="4.3"/><circle cx="1478.9" cy="676.1" r="4.3"/><circle cx="1483.3" cy="673.2" r="4.3"/><circle cx="1487.5" cy="676" r="4.3"/><circle cx="1491.5" cy="676" r="4.3"/><circle cx="1494.8" cy="673.5" r="4.3"/><circle cx="1497.7" cy="671.4" r="4.3"/><circle cx="1501.1" cy="673.8" r="4.3"/><circle cx="1505.3" cy="675.9" r="4.3"/><circle cx="1509.8" cy="673.4" r="4.3"/><circle cx="1512.7" cy="672" r="4.3"/><circle cx="1515.4" cy="670.1" r="4.3"/><circle cx="1518.8" cy="675" r="4.3"/><circle cx="1522.8" cy="674.5" r="4.3"/><circle cx="1525.2" cy="672.4" r="4.3"/><circle cx="1527.3" cy="671.7" r="4.3"/><circle cx="1530" cy="673.2" r="4.3"/><circle cx="1534.4" cy="673.5" r="4.3"/><circle cx="1538.1" cy="675" r="4.3"/><circle cx="1540.1" cy="675.7" r="4.3"/><circle cx="1542.5" cy="673.2" r="4.3"/><circle cx="1545.5" cy="673.9" r="4.3"/><circle cx="1549.8" cy="675.5" r="4.3"/><circle cx="1552.3" cy="672.9" r="4.3"/><circle cx="1554.4" cy="675.6" r="4.3"/><circle cx="1557.3" cy="675.5" r="4.3"/><circle cx="1560.2" cy="675.2" r="4.3"/><circle cx="1563.6" cy="673.2" r="4.3"/><circle cx="1566.1" cy="673" r="4.3"/><circle cx="1569.3" cy="675.3" r="4.3"/><circle cx="1573.7" cy="675" r="4.3"/><circle cx="1576.1" cy="675.4" r="4.3"/><circle cx="1579.6" cy="670.7" r="4.3"/><circle cx="1583.6" cy="674.2" r="4.3"/><circle cx="1586.3" cy="675.4" r="4.3"/><circle cx="1589.9" cy="673.2" r="4.3"/><circle cx="1592.7" cy="672.6" r="4.3"/><circle cx="1434.5" cy="666.5" r="4.3"/><circle cx="1462" cy="664.5" r="4.3"/><circle cx="1478" cy="664.5" r="4.3"/><circle cx="1557" cy="668.5" r="4.3"/></g><g fill="#e89676" stroke="#2b1a12" stroke-width="2"><rect x="1594.6" y="673" width="59" height="5.8"/><rect x="1594.6" y="678.8" width="104.4" height="5.5"/><rect x="1594.6" y="684.3" width="122.4" height="5.1"/></g><path d="M1594.6 427.3 H1717 V689.4" stroke="#4a4a4a" stroke-width="2.5" fill="none"/><path d="M1594.6 427.3 V673" stroke="#4a4a4a" stroke-width="2.5" fill="none"/><path d="M1593.6 689.4 H1718" stroke="#2b1a12" stroke-width="2.2"/><text x="1504" y="409.1" text-anchor="middle" class="ttl" textLength="104.6" lengthAdjust="spacingAndGlyphs">ss #10</text><path d="M153 1040.8 V775.4 H328 M328 775.4 V1040.8" stroke="#4a4a4a" stroke-width="2.5" fill="none"/><path d="M153 952.3 h2.6 M328 952.3 h-2.6 M153 863.9 h2.6 M328 863.9 h-2.6" stroke="#4a4a4a" stroke-width="1.8"/><rect x="148.7" y="1016" width="183.6" height="29.8" rx="4.3" fill="#0071c1"/><polygon points="148.7,1040.8 153,1017.5 156,1017.5 158.9,1017.4 161.9,1017.4 164.9,1017.4 167.8,1017.3 170.8,1017.3 173.8,1017.3 176.7,1017.2 179.7,1017.2 182.7,1017.2 185.6,1017.1 188.6,1017.1 191.6,1017.1 194.5,1017 197.5,1017 200.5,1017 203.4,1016.9 206.4,1016.9 209.4,1016.9 212.3,1016.8 215.3,1016.8 218.3,1016.8 221.2,1016.7 224.2,1016.7 227.2,1016.7 230.1,1016.6 233.1,1016.6 236.1,1016.6 239,1016.5 242,1016.5 244.9,1016.4 247.9,1016.4 250.9,1016.4 253.8,1016.3 256.8,1016.3 259.8,1016.3 262.7,1016.2 265.7,1016.2 268.7,1016.2 271.6,1016.1 274.6,1016.1 277.6,1016.1 280.5,1016 283.5,1016 286.5,1016 289.4,1015.9 292.4,1015.9 295.4,1015.9 298.3,1015.8 301.3,1015.8 304.3,1015.8 307.2,1015.7 310.2,1015.7 313.2,1015.7 316.1,1015.6 319.1,1015.6 322.1,1015.6 325,1015.5 328,1015.5 329.7,1040.8" fill="#0071c1"/><g fill="#0071c1"><circle cx="153" cy="1010.8" r="4.3"/><circle cx="156.8" cy="1018" r="4.3"/><circle cx="161.1" cy="1018.7" r="4.3"/><circle cx="164.4" cy="1016.9" r="4.3"/><circle cx="167" cy="1018.6" r="4.3"/><circle cx="171" cy="1018.6" r="4.3"/><circle cx="174.3" cy="1010.5" r="4.3"/><circle cx="176.7" cy="1018" r="4.3"/><circle cx="180.2" cy="1015.8" r="4.3"/><circle cx="183.8" cy="1012.2" r="4.3"/><circle cx="186.3" cy="1017.3" r="4.3"/><circle cx="189" cy="1018.3" r="4.3"/><circle cx="193.2" cy="1012.5" r="4.3"/><circle cx="197" cy="1018.3" r="4.3"/><circle cx="201.1" cy="1012.9" r="4.3"/><circle cx="204.3" cy="1012.9" r="4.3"/><circle cx="207.4" cy="1017.5" r="4.3"/><circle cx="209.7" cy="1017.5" r="4.3"/><circle cx="211.8" cy="1016.9" r="4.3"/><circle cx="215.7" cy="1013.4" r="4.3"/><circle cx="219.8" cy="1013.1" r="4.3"/><circle cx="222.4" cy="1014.9" r="4.3"/><circle cx="225.5" cy="1012.1" r="4.3"/><circle cx="228.8" cy="1017.1" r="4.3"/><circle cx="232.4" cy="1009.4" r="4.3"/><circle cx="235" cy="1010.7" r="4.3"/><circle cx="237" cy="1017" r="4.3"/><circle cx="239.6" cy="1012.5" r="4.3"/><circle cx="244" cy="1012.4" r="4.3"/><circle cx="246.8" cy="1010.6" r="4.3"/><circle cx="249.6" cy="1017" r="4.3"/><circle cx="253.9" cy="1013.7" r="4.3"/><circle cx="257.6" cy="1013.3" r="4.3"/><circle cx="262.1" cy="1015.2" r="4.3"/><circle cx="266.2" cy="1012.8" r="4.3"/><circle cx="270.3" cy="1015.4" r="4.3"/><circle cx="274.1" cy="1014.1" r="4.3"/><circle cx="276.9" cy="1016.8" r="4.3"/><circle cx="280.4" cy="1017.2" r="4.3"/><circle cx="284.7" cy="1017" r="4.3"/><circle cx="286.8" cy="1017.1" r="4.3"/><circle cx="291.1" cy="1015.9" r="4.3"/><circle cx="293.5" cy="1017.2" r="4.3"/><circle cx="295.6" cy="1012.5" r="4.3"/><circle cx="299.2" cy="1012.4" r="4.3"/><circle cx="303" cy="1017" r="4.3"/><circle cx="306.5" cy="1015.6" r="4.3"/><circle cx="310.5" cy="1010.7" r="4.3"/><circle cx="314.7" cy="1016.9" r="4.3"/><circle cx="318.9" cy="1009.2" r="4.3"/><circle cx="323.3" cy="1016.7" r="4.3"/><circle cx="325.8" cy="1016.6" r="4.3"/><circle cx="327.9" cy="1010.1" r="4.3"/><circle cx="244.3" cy="973" r="4.3"/><circle cx="152" cy="1014" r="4.3"/><circle cx="185" cy="1010.5" r="4.3"/><circle cx="222" cy="1007" r="4.3"/><circle cx="234" cy="1009" r="4.3"/><circle cx="314" cy="1004.5" r="4.3"/><circle cx="305" cy="1008" r="4.3"/></g><g fill="#e89676" stroke="#2b1a12" stroke-width="2"><rect x="328" y="998" width="14.2" height="14.3"/><rect x="328" y="1012.3" width="86.6" height="14.1"/><rect x="328" y="1026.4" width="122.5" height="14.4"/></g><path d="M328 775.4 H450.5 V1040.8" stroke="#4a4a4a" stroke-width="2.5" fill="none"/><path d="M328 775.4 V998" stroke="#4a4a4a" stroke-width="2.5" fill="none"/><path d="M327 1040.8 H451.5" stroke="#2b1a12" stroke-width="2.2"/><text x="237.8" y="757.2" text-anchor="middle" class="ttl" textLength="100.4" lengthAdjust="spacingAndGlyphs">ss #11</text><text x="141" y="1051.7" text-anchor="end" class="tkA" textLength="16.8" lengthAdjust="spacingAndGlyphs">0</text><text x="138.5" y="963.2" text-anchor="end" class="tkA" textLength="50.4" lengthAdjust="spacingAndGlyphs">100</text><text x="138.5" y="874.8" text-anchor="end" class="tkA" textLength="50.4" lengthAdjust="spacingAndGlyphs">200</text><text x="138.5" y="786.3" text-anchor="end" class="tkA" textLength="50.4" lengthAdjust="spacingAndGlyphs">300</text><path d="M470 1040.8 V775.4 H645.8 M645.8 775.4 V1040.8" stroke="#4a4a4a" stroke-width="2.5" fill="none"/><rect x="465.7" y="1018.5" width="184.4" height="27.3" rx="4.3" fill="#0071c1"/><polygon points="465.7,1040.8 470,1021 473,1020.9 476,1020.9 478.9,1020.8 481.9,1020.7 484.9,1020.7 487.9,1020.6 490.9,1020.5 493.8,1020.5 496.8,1020.4 499.8,1020.3 502.8,1020.3 505.8,1020.2 508.7,1020.1 511.7,1020.1 514.7,1020 517.7,1019.9 520.7,1019.8 523.6,1019.8 526.6,1019.7 529.6,1019.6 532.6,1019.6 535.6,1019.5 538.5,1019.4 541.5,1019.4 544.5,1019.3 547.5,1019.2 550.5,1019.2 553.4,1019.1 556.4,1019 559.4,1019 562.4,1018.9 565.3,1018.8 568.3,1018.8 571.3,1018.7 574.3,1018.6 577.3,1018.6 580.2,1018.5 583.2,1018.4 586.2,1018.4 589.2,1018.3 592.2,1018.2 595.1,1018.2 598.1,1018.1 601.1,1018 604.1,1017.9 607.1,1017.9 610,1017.8 613,1017.7 616,1017.7 619,1017.6 622,1017.5 624.9,1017.5 627.9,1017.4 630.9,1017.3 633.9,1017.3 636.9,1017.2 639.8,1017.1 642.8,1017.1 645.8,1017 647.5,1040.8" fill="#0071c1"/><g fill="#0071c1"><circle cx="470" cy="1018.8" r="4.3"/><circle cx="474.1" cy="1018.7" r="4.3"/><circle cx="476.8" cy="1022" r="4.3"/><circle cx="479" cy="1017.2" r="4.3"/><circle cx="481.5" cy="1021" r="4.3"/><circle cx="484.6" cy="1022" r="4.3"/><circle cx="487.2" cy="1021.1" r="4.3"/><circle cx="491" cy="1020.5" r="4.3"/><circle cx="493.8" cy="1014.3" r="4.3"/><circle cx="497.1" cy="1015.7" r="4.3"/><circle cx="500.6" cy="1021.6" r="4.3"/><circle cx="503.7" cy="1019.7" r="4.3"/><circle cx="507.6" cy="1020.2" r="4.3"/><circle cx="511.4" cy="1018.7" r="4.3"/><circle cx="513.9" cy="1015.2" r="4.3"/><circle cx="516.1" cy="1015.6" r="4.3"/><circle cx="518.6" cy="1021.2" r="4.3"/><circle cx="521.1" cy="1016.2" r="4.3"/><circle cx="525.5" cy="1021" r="4.3"/><circle cx="528.7" cy="1018.7" r="4.3"/><circle cx="532.7" cy="1020.5" r="4.3"/><circle cx="536" cy="1019.6" r="4.3"/><circle cx="540" cy="1020" r="4.3"/><circle cx="544.4" cy="1019.8" r="4.3"/><circle cx="546.9" cy="1016.3" r="4.3"/><circle cx="550.2" cy="1020.3" r="4.3"/><circle cx="553.8" cy="1020.3" r="4.3"/><circle cx="557.7" cy="1016.1" r="4.3"/><circle cx="561.7" cy="1016.7" r="4.3"/><circle cx="564.6" cy="1018.6" r="4.3"/><circle cx="567.6" cy="1013.6" r="4.3"/><circle cx="569.8" cy="1013.6" r="4.3"/><circle cx="571.9" cy="1019.5" r="4.3"/><circle cx="574.5" cy="1013.3" r="4.3"/><circle cx="577.8" cy="1018.4" r="4.3"/><circle cx="582" cy="1019.2" r="4.3"/><circle cx="585.1" cy="1017.1" r="4.3"/><circle cx="589" cy="1014.8" r="4.3"/><circle cx="592.6" cy="1018.3" r="4.3"/><circle cx="595.5" cy="1019.2" r="4.3"/><circle cx="599.6" cy="1015.5" r="4.3"/><circle cx="603.4" cy="1018.9" r="4.3"/><circle cx="606.5" cy="1014.1" r="4.3"/><circle cx="610" cy="1018.9" r="4.3"/><circle cx="613.1" cy="1012.6" r="4.3"/><circle cx="615.7" cy="1018.6" r="4.3"/><circle cx="618.5" cy="1014.7" r="4.3"/><circle cx="622.6" cy="1018.5" r="4.3"/><circle cx="625" cy="1018.1" r="4.3"/><circle cx="627.8" cy="1016.2" r="4.3"/><circle cx="630.2" cy="1017.6" r="4.3"/><circle cx="632.7" cy="1010.9" r="4.3"/><circle cx="636.5" cy="1018.4" r="4.3"/><circle cx="640.9" cy="1018.3" r="4.3"/><circle cx="643.8" cy="1010.6" r="4.3"/><circle cx="617.3" cy="1004" r="4.3"/><circle cx="634.4" cy="1003.2" r="4.3"/><circle cx="492" cy="1012" r="4.3"/><circle cx="507" cy="1013" r="4.3"/><circle cx="517" cy="1013" r="4.3"/><circle cx="556" cy="1006.5" r="4.3"/><circle cx="587" cy="1012.5" r="4.3"/></g><g fill="#e89676" stroke="#2b1a12" stroke-width="2"><rect x="645.8" y="1008.8" width="34.6" height="8.3"/><rect x="645.8" y="1017.1" width="73" height="7.8"/><rect x="645.8" y="1024.9" width="102.1" height="8.3"/><rect x="645.8" y="1033.2" width="122.5" height="7.6"/></g><path d="M645.8 775.4 H768.3 V1040.8" stroke="#4a4a4a" stroke-width="2.5" fill="none"/><path d="M645.8 775.4 V1008.8" stroke="#4a4a4a" stroke-width="2.5" fill="none"/><path d="M644.8 1040.8 H769.3" stroke="#2b1a12" stroke-width="2.2"/><text x="555.2" y="757.2" text-anchor="middle" class="ttl" textLength="104.6" lengthAdjust="spacingAndGlyphs">ss #12</text><path d="M787.2 1040.8 V775.4 H963 M963 775.4 V1040.8" stroke="#4a4a4a" stroke-width="2.5" fill="none"/><rect x="782.9" y="1024" width="184.4" height="21.8" rx="4.3" fill="#0071c1"/><polygon points="782.9,1040.8 787.2,1025 790.2,1025 793.2,1025 796.1,1024.9 799.1,1024.9 802.1,1024.9 805.1,1024.9 808.1,1024.9 811,1024.9 814,1024.8 817,1024.8 820,1024.8 823,1024.8 825.9,1024.8 828.9,1024.8 831.9,1024.7 834.9,1024.7 837.9,1024.7 840.8,1024.7 843.8,1024.7 846.8,1024.7 849.8,1024.6 852.8,1024.6 855.7,1024.6 858.7,1024.6 861.7,1024.6 864.7,1024.6 867.7,1024.5 870.6,1024.5 873.6,1024.5 876.6,1024.5 879.6,1024.5 882.5,1024.5 885.5,1024.4 888.5,1024.4 891.5,1024.4 894.5,1024.4 897.4,1024.4 900.4,1024.4 903.4,1024.3 906.4,1024.3 909.4,1024.3 912.3,1024.3 915.3,1024.3 918.3,1024.3 921.3,1024.2 924.3,1024.2 927.2,1024.2 930.2,1024.2 933.2,1024.2 936.2,1024.2 939.2,1024.1 942.1,1024.1 945.1,1024.1 948.1,1024.1 951.1,1024.1 954.1,1024.1 957,1024 960,1024 963,1024 964.7,1040.8" fill="#0071c1"/><g fill="#0071c1"><circle cx="787.2" cy="1024" r="4.3"/><circle cx="790.3" cy="1026.1" r="4.3"/><circle cx="793.9" cy="1026.2" r="4.3"/><circle cx="796.4" cy="1025.5" r="4.3"/><circle cx="798.5" cy="1025.5" r="4.3"/><circle cx="802.5" cy="1024.1" r="4.3"/><circle cx="805.7" cy="1024.4" r="4.3"/><circle cx="808.9" cy="1026" r="4.3"/><circle cx="812.4" cy="1025.4" r="4.3"/><circle cx="816.2" cy="1022.8" r="4.3"/><circle cx="819.3" cy="1024.6" r="4.3"/><circle cx="823.2" cy="1025.2" r="4.3"/><circle cx="825.8" cy="1023.8" r="4.3"/><circle cx="830" cy="1023.5" r="4.3"/><circle cx="833.7" cy="1023" r="4.3"/><circle cx="837.4" cy="1024.2" r="4.3"/><circle cx="840.5" cy="1025.5" r="4.3"/><circle cx="844.1" cy="1025.9" r="4.3"/><circle cx="847.2" cy="1023.4" r="4.3"/><circle cx="850.9" cy="1024.2" r="4.3"/><circle cx="853.6" cy="1025.1" r="4.3"/><circle cx="856.7" cy="1024.2" r="4.3"/><circle cx="859.7" cy="1023.9" r="4.3"/><circle cx="864" cy="1025.7" r="4.3"/><circle cx="867.7" cy="1023.3" r="4.3"/><circle cx="870.7" cy="1024.7" r="4.3"/><circle cx="875.1" cy="1025.8" r="4.3"/><circle cx="878.5" cy="1025.6" r="4.3"/><circle cx="882.4" cy="1022.2" r="4.3"/><circle cx="885.7" cy="1025.7" r="4.3"/><circle cx="889.1" cy="1024.4" r="4.3"/><circle cx="892.9" cy="1024.5" r="4.3"/><circle cx="896.5" cy="1022.8" r="4.3"/><circle cx="899.8" cy="1024.8" r="4.3"/><circle cx="904.2" cy="1025.4" r="4.3"/><circle cx="907.9" cy="1024.9" r="4.3"/><circle cx="911.8" cy="1025.5" r="4.3"/><circle cx="916.3" cy="1024.9" r="4.3"/><circle cx="918.4" cy="1025.2" r="4.3"/><circle cx="921.4" cy="1025.5" r="4.3"/><circle cx="924.5" cy="1024.7" r="4.3"/><circle cx="928.2" cy="1024.9" r="4.3"/><circle cx="930.9" cy="1025.2" r="4.3"/><circle cx="934.7" cy="1021.9" r="4.3"/><circle cx="938.1" cy="1025.2" r="4.3"/><circle cx="942.1" cy="1024.7" r="4.3"/><circle cx="944.6" cy="1025.3" r="4.3"/><circle cx="948.5" cy="1022.6" r="4.3"/><circle cx="952.1" cy="1024.3" r="4.3"/><circle cx="955.5" cy="1025.1" r="4.3"/><circle cx="959.9" cy="1024.7" r="4.3"/><circle cx="816" cy="1019" r="4.3"/><circle cx="856" cy="1018.5" r="4.3"/><circle cx="935" cy="1019.5" r="4.3"/></g><g fill="#e89676" stroke="#2b1a12" stroke-width="1.05"><rect x="963" y="1022.7" width="53.2" height="2.2"/><rect x="963" y="1025" width="53.2" height="2.2"/><rect x="963" y="1027.2" width="84.7" height="2.2"/><rect x="963" y="1029.4" width="84.7" height="2.2"/><rect x="963" y="1031.6" width="105.1" height="2.3"/><rect x="963" y="1033.9" width="105.1" height="2.3"/><rect x="963" y="1036.2" width="122.3" height="2.3"/><rect x="963" y="1038.5" width="122.3" height="2.3"/></g><path d="M963 775.4 H1085.3 V1040.8" stroke="#4a4a4a" stroke-width="2.5" fill="none"/><path d="M963 775.4 V1022.7" stroke="#4a4a4a" stroke-width="2.5" fill="none"/><path d="M962 1040.8 H1086.3" stroke="#2b1a12" stroke-width="2.2"/><text x="872.4" y="757.2" text-anchor="middle" class="ttl" textLength="104.6" lengthAdjust="spacingAndGlyphs">ss #13</text><path d="M1101.3 1040.8 V775.4 H1277 M1277 775.4 V1040.8" stroke="#4a4a4a" stroke-width="2.5" fill="none"/><rect x="1097" y="1018" width="184.3" height="27.8" rx="4.3" fill="#0071c1"/><polygon points="1097,1040.8 1101.3,1019.5 1104.3,1019.5 1107.3,1019.4 1110.2,1019.4 1113.2,1019.4 1116.2,1019.3 1119.2,1019.3 1122.1,1019.3 1125.1,1019.2 1128.1,1019.2 1131.1,1019.2 1134.1,1019.1 1137,1019.1 1140,1019.1 1143,1019 1146,1019 1148.9,1019 1151.9,1018.9 1154.9,1018.9 1157.9,1018.9 1160.9,1018.8 1163.8,1018.8 1166.8,1018.8 1169.8,1018.7 1172.8,1018.7 1175.7,1018.7 1178.7,1018.6 1181.7,1018.6 1184.7,1018.6 1187.7,1018.5 1190.6,1018.5 1193.6,1018.4 1196.6,1018.4 1199.6,1018.4 1202.6,1018.3 1205.5,1018.3 1208.5,1018.3 1211.5,1018.2 1214.5,1018.2 1217.4,1018.2 1220.4,1018.1 1223.4,1018.1 1226.4,1018.1 1229.4,1018 1232.3,1018 1235.3,1018 1238.3,1017.9 1241.3,1017.9 1244.2,1017.9 1247.2,1017.8 1250.2,1017.8 1253.2,1017.8 1256.2,1017.7 1259.1,1017.7 1262.1,1017.7 1265.1,1017.6 1268.1,1017.6 1271,1017.6 1274,1017.5 1277,1017.5 1278.7,1040.8" fill="#0071c1"/><g fill="#0071c1"><circle cx="1101.3" cy="1015.2" r="4.3"/><circle cx="1105.3" cy="1018.7" r="4.3"/><circle cx="1108.1" cy="1018" r="4.3"/><circle cx="1110.4" cy="1014.9" r="4.3"/><circle cx="1113.3" cy="1014.7" r="4.3"/><circle cx="1115.9" cy="1019.2" r="4.3"/><circle cx="1118.6" cy="1018.9" r="4.3"/><circle cx="1121" cy="1020.6" r="4.3"/><circle cx="1124.8" cy="1019.7" r="4.3"/><circle cx="1127.5" cy="1019.6" r="4.3"/><circle cx="1130.7" cy="1018.7" r="4.3"/><circle cx="1134.3" cy="1016.6" r="4.3"/><circle cx="1137.2" cy="1013.4" r="4.3"/><circle cx="1141.3" cy="1020.3" r="4.3"/><circle cx="1145.4" cy="1013.6" r="4.3"/><circle cx="1149.3" cy="1020" r="4.3"/><circle cx="1153.4" cy="1016.7" r="4.3"/><circle cx="1155.4" cy="1020.2" r="4.3"/><circle cx="1159.8" cy="1016.4" r="4.3"/><circle cx="1162.4" cy="1020" r="4.3"/><circle cx="1164.8" cy="1019.5" r="4.3"/><circle cx="1168.7" cy="1018.8" r="4.3"/><circle cx="1171.1" cy="1013.3" r="4.3"/><circle cx="1175.1" cy="1019.6" r="4.3"/><circle cx="1179.3" cy="1016.6" r="4.3"/><circle cx="1183.3" cy="1016" r="4.3"/><circle cx="1187.5" cy="1014.6" r="4.3"/><circle cx="1191.6" cy="1019.3" r="4.3"/><circle cx="1195.3" cy="1017.2" r="4.3"/><circle cx="1199.2" cy="1017.9" r="4.3"/><circle cx="1203.4" cy="1016.9" r="4.3"/><circle cx="1206.1" cy="1019" r="4.3"/><circle cx="1208.4" cy="1017.3" r="4.3"/><circle cx="1210.6" cy="1017.5" r="4.3"/><circle cx="1212.9" cy="1017.3" r="4.3"/><circle cx="1216.2" cy="1016.8" r="4.3"/><circle cx="1220.3" cy="1019.4" r="4.3"/><circle cx="1224.4" cy="1017.3" r="4.3"/><circle cx="1227.8" cy="1015.5" r="4.3"/><circle cx="1231.9" cy="1017.9" r="4.3"/><circle cx="1235" cy="1011.8" r="4.3"/><circle cx="1237.2" cy="1015.7" r="4.3"/><circle cx="1240.8" cy="1019.2" r="4.3"/><circle cx="1244.3" cy="1015.1" r="4.3"/><circle cx="1248.6" cy="1018" r="4.3"/><circle cx="1253.1" cy="1016.7" r="4.3"/><circle cx="1256.3" cy="1012.4" r="4.3"/><circle cx="1258.4" cy="1014.6" r="4.3"/><circle cx="1261.9" cy="1017.8" r="4.3"/><circle cx="1266.1" cy="1017.6" r="4.3"/><circle cx="1269.3" cy="1016.4" r="4.3"/><circle cx="1273.2" cy="1018.3" r="4.3"/><circle cx="1276.3" cy="1017.1" r="4.3"/><circle cx="1209.3" cy="907.8" r="4.3"/><circle cx="1216.7" cy="944.9" r="4.3"/><circle cx="1182.8" cy="954.8" r="4.3"/><circle cx="1256.4" cy="970.4" r="4.3"/><circle cx="1215.8" cy="989.8" r="4.3"/><circle cx="1222.7" cy="992.6" r="4.3"/><circle cx="1101.5" cy="1003" r="4.3"/><circle cx="1122.5" cy="1004.7" r="4.3"/><circle cx="1154" cy="1002" r="4.3"/><circle cx="1153" cy="1008" r="4.3"/><circle cx="1181.8" cy="1002.4" r="4.3"/><circle cx="1186.5" cy="1006" r="4.3"/><circle cx="1204.7" cy="1003.4" r="4.3"/><circle cx="1232" cy="1001.9" r="4.3"/></g><g fill="#e89676" stroke="#2b1a12" stroke-width="2"><rect x="1277" y="986.1" width="34.7" height="27.1"/><rect x="1277" y="1013.2" width="126" height="27.6"/></g><path d="M1277 775.4 H1403 V1040.8" stroke="#4a4a4a" stroke-width="2.5" fill="none"/><path d="M1277 775.4 V986.1" stroke="#4a4a4a" stroke-width="2.5" fill="none"/><path d="M1276 1040.8 H1404" stroke="#2b1a12" stroke-width="2.2"/><text x="1186.5" y="757.2" text-anchor="middle" class="ttl" textLength="104.6" lengthAdjust="spacingAndGlyphs">ss #14</text><path d="M1418.7 1040.8 V775.4 H1594.6 M1594.6 775.4 V1040.8" stroke="#4a4a4a" stroke-width="2.5" fill="none"/><rect x="1414.4" y="1021.5" width="184.5" height="24.3" rx="4.3" fill="#0071c1"/><polygon points="1414.4,1040.8 1418.7,1025 1421.7,1024.9 1424.7,1024.8 1427.6,1024.7 1430.6,1024.6 1433.6,1024.5 1436.6,1024.4 1439.6,1024.3 1442.6,1024.2 1445.5,1024.1 1448.5,1024 1451.5,1023.9 1454.5,1023.8 1457.5,1023.7 1460.4,1023.6 1463.4,1023.5 1466.4,1023.4 1469.4,1023.3 1472.4,1023.2 1475.3,1023.1 1478.3,1023 1481.3,1022.9 1484.3,1022.8 1487.3,1022.7 1490.3,1022.6 1493.2,1022.5 1496.2,1022.4 1499.2,1022.3 1502.2,1022.2 1505.2,1022.1 1508.1,1021.9 1511.1,1021.8 1514.1,1021.7 1517.1,1021.6 1520.1,1021.5 1523,1021.4 1526,1021.3 1529,1021.2 1532,1021.1 1535,1021 1538,1020.9 1540.9,1020.8 1543.9,1020.7 1546.9,1020.6 1549.9,1020.5 1552.9,1020.4 1555.8,1020.3 1558.8,1020.2 1561.8,1020.1 1564.8,1020 1567.8,1019.9 1570.7,1019.8 1573.7,1019.7 1576.7,1019.6 1579.7,1019.5 1582.7,1019.4 1585.7,1019.3 1588.6,1019.2 1591.6,1019.1 1594.6,1019 1596.3,1040.8" fill="#0071c1"/><g fill="#0071c1"><circle cx="1418.7" cy="1022.7" r="4.3"/><circle cx="1421.4" cy="1022.6" r="4.3"/><circle cx="1424.4" cy="1024.6" r="4.3"/><circle cx="1427.1" cy="1024.5" r="4.3"/><circle cx="1431.6" cy="1023.5" r="4.3"/><circle cx="1435.5" cy="1025" r="4.3"/><circle cx="1438.3" cy="1025.1" r="4.3"/><circle cx="1441.8" cy="1023.3" r="4.3"/><circle cx="1445.8" cy="1025.4" r="4.3"/><circle cx="1449.6" cy="1021.2" r="4.3"/><circle cx="1452.9" cy="1025.1" r="4.3"/><circle cx="1455.7" cy="1025" r="4.3"/><circle cx="1458.2" cy="1020.6" r="4.3"/><circle cx="1461.7" cy="1022.5" r="4.3"/><circle cx="1465.6" cy="1020.5" r="4.3"/><circle cx="1469.2" cy="1022.5" r="4.3"/><circle cx="1472.7" cy="1021.8" r="4.3"/><circle cx="1476.2" cy="1021.8" r="4.3"/><circle cx="1478.8" cy="1021.8" r="4.3"/><circle cx="1481.9" cy="1021.1" r="4.3"/><circle cx="1484.2" cy="1023.8" r="4.3"/><circle cx="1486.3" cy="1020.8" r="4.3"/><circle cx="1490.5" cy="1021.5" r="4.3"/><circle cx="1493.5" cy="1020.2" r="4.3"/><circle cx="1497.4" cy="1021.8" r="4.3"/><circle cx="1500.1" cy="1022.9" r="4.3"/><circle cx="1503.1" cy="1022.8" r="4.3"/><circle cx="1506.2" cy="1021.1" r="4.3"/><circle cx="1510.5" cy="1023.1" r="4.3"/><circle cx="1514" cy="1023" r="4.3"/><circle cx="1516.3" cy="1019.5" r="4.3"/><circle cx="1519.7" cy="1018.6" r="4.3"/><circle cx="1522.8" cy="1022.7" r="4.3"/><circle cx="1525.8" cy="1020.7" r="4.3"/><circle cx="1530.1" cy="1017.7" r="4.3"/><circle cx="1533.3" cy="1021.4" r="4.3"/><circle cx="1535.6" cy="1020" r="4.3"/><circle cx="1538.1" cy="1022" r="4.3"/><circle cx="1540.1" cy="1022.1" r="4.3"/><circle cx="1543.8" cy="1021.9" r="4.3"/><circle cx="1548.3" cy="1021.8" r="4.3"/><circle cx="1552.4" cy="1021.6" r="4.3"/><circle cx="1554.5" cy="1018.9" r="4.3"/><circle cx="1557.1" cy="1018.7" r="4.3"/><circle cx="1559.6" cy="1021.5" r="4.3"/><circle cx="1563.5" cy="1018.6" r="4.3"/><circle cx="1567.6" cy="1018.4" r="4.3"/><circle cx="1569.8" cy="1019" r="4.3"/><circle cx="1573.6" cy="1019.8" r="4.3"/><circle cx="1577.9" cy="1020.4" r="4.3"/><circle cx="1582.4" cy="1018" r="4.3"/><circle cx="1584.4" cy="1020.6" r="4.3"/><circle cx="1588" cy="1017" r="4.3"/><circle cx="1590.2" cy="1019.8" r="4.3"/><circle cx="1594" cy="1020.1" r="4.3"/><circle cx="1470" cy="1019.5" r="4.3"/><circle cx="1510" cy="1020" r="4.3"/><circle cx="1585" cy="1017" r="4.3"/></g><g fill="#e89676" stroke="#2b1a12" stroke-width="1.05"><rect x="1594.6" y="1018" width="8" height="2.3"/><rect x="1594.6" y="1020.3" width="8" height="2.3"/><rect x="1594.6" y="1022.6" width="46" height="2.3"/><rect x="1594.6" y="1024.9" width="46" height="2.3"/><rect x="1594.6" y="1027.2" width="85.9" height="2.2"/><rect x="1594.6" y="1029.5" width="85.9" height="2.2"/><rect x="1594.6" y="1031.7" width="98.4" height="2.2"/><rect x="1594.6" y="1034" width="98.4" height="2.2"/><rect x="1594.6" y="1036.2" width="122.4" height="2.3"/><rect x="1594.6" y="1038.5" width="122.4" height="2.3"/></g><path d="M1594.6 775.4 H1717 V1040.8" stroke="#4a4a4a" stroke-width="2.5" fill="none"/><path d="M1594.6 775.4 V1018" stroke="#4a4a4a" stroke-width="2.5" fill="none"/><path d="M1593.6 1040.8 H1718" stroke="#2b1a12" stroke-width="2.2"/><text x="1504" y="757.2" text-anchor="middle" class="ttl" textLength="104.6" lengthAdjust="spacingAndGlyphs">ss #15</text><text x="172" y="1106" class="lbl" textLength="106" lengthAdjust="spacingAndGlyphs">All PCs</text><text x="337.5" y="1106" class="lbl" textLength="86" lengthAdjust="spacingAndGlyphs">Prob.</text><path d="M141.5 1579 V1180 H929.3" stroke="#4a4a4a" stroke-width="2.3" fill="none"/><polygon points="140,1580.5 141.5,1542.3 142.5,1540.9 143.5,1536.5 144.5,1536.5 145.5,1536.1 146.5,1536.3 147.5,1539 148.5,1539.6 149.5,1541.7 150.5,1539.8 151.5,1537.9 152.5,1539.1 153.5,1534.7 154.5,1537.8 155.5,1529.3 156.5,1525.7 157.5,1523.7 158.5,1519.2 159.5,1528.5 160.5,1533.3 161.5,1537.8 162.5,1540.6 163.5,1542.3 164.5,1539.2 165.5,1538.2 166.5,1534 167.5,1524.4 168.5,1525.7 169.5,1531.9 170.5,1539.2 171.5,1537.6 172.5,1538.8 173.5,1540.5 174.5,1547.4 175.5,1525.7 176.5,1508.1 177.5,1488.9 178.5,1463.4 179.5,1458.9 180.5,1482.7 181.5,1493.1 182.5,1484.6 183.5,1504.2 184.5,1518.1 185.5,1533.2 186.5,1533.7 187.5,1532.6 188.5,1526.7 189.5,1515.8 190.5,1504.6 191.5,1510.7 192.5,1510 193.5,1529.7 194.5,1537.9 195.5,1538.2 196.5,1539.8 197.5,1539 198.5,1535.5 199.5,1534.8 200.5,1525.9 201.5,1518.1 202.5,1512.5 203.5,1513.2 204.5,1521 205.5,1528.7 206.5,1526.8 207.5,1531.9 208.5,1538.4 209.5,1551.1 210.5,1553.1 211.5,1547.4 212.5,1548.5 213.5,1547 214.5,1543.9 215.5,1549.3 216.5,1544.6 217.5,1537.6 218.5,1531.6 219.5,1533.2 220.5,1541.7 221.5,1550.4 222.5,1545.3 223.5,1546 224.5,1549.1 225.5,1539.9 226.5,1537.4 227.5,1530.6 228.5,1534.5 229.5,1546.6 230.5,1547.9 231.5,1546.5 232.5,1543.4 233.5,1536.4 234.5,1531.9 235.5,1527.5 236.5,1523.9 237.5,1531.3 238.5,1543 239.5,1537.9 240.5,1532 241.5,1531.3 242.5,1539.6 243.5,1548.8 244.5,1554.1 245.5,1550 246.5,1549.3 247.5,1552.5 248.5,1552.5 249.5,1548.1 250.5,1544.7 251.5,1542.2 252.5,1535.7 253.5,1533.3 254.5,1538.4 255.5,1532.6 256.5,1532.3 257.5,1528.1 258.5,1527.5 259.5,1524.2 260.5,1528.5 261.5,1535.4 262.5,1528.6 263.5,1534.5 264.5,1534.4 265.5,1546.8 266.5,1549.4 267.5,1552.1 268.5,1551.3 269.5,1549 270.5,1549.3 271.5,1541.9 272.5,1536.6 273.5,1538.8 274.5,1538.7 275.5,1541.8 276.5,1530.4 277.5,1524 278.5,1509.2 279.5,1514.4 280.5,1521.2 281.5,1523.7 282.5,1536.3 283.5,1541 284.5,1540 285.5,1534.7 286.5,1538.5 287.5,1538.6 288.5,1545.4 289.5,1530.7 290.5,1528.5 291.5,1519.5 292.5,1519.4 293.5,1524 294.5,1525.3 295.5,1531.7 296.5,1542.4 297.5,1546.5 298.5,1551.9 299.5,1552.5 300.5,1543.4 301.5,1539 302.5,1535.9 303.5,1533.8 304.5,1532.1 305.5,1529.1 306.5,1532.1 307.5,1538.9 308.5,1545.9 309.5,1552.2 310.5,1548.7 311.5,1550.6 312.5,1551.7 313.5,1553.4 314.5,1550.4 315.5,1542.1 316.5,1537.4 317.5,1533.6 318.5,1537.1 319.5,1535.5 320.5,1538.2 321.5,1537.7 322.5,1534.2 323.5,1536.6 324.5,1537.2 325.5,1540 326.5,1539.4 327.5,1533.7 328.5,1534 329.5,1535.9 330.5,1537.2 331.5,1536.8 332.5,1540.4 333.5,1546.7 334.5,1552 335.5,1549.6 336.5,1543.1 337.5,1539.5 338.5,1531.9 339.5,1531.6 340.5,1522.1 341.5,1521.6 342.5,1527.3 343.5,1534.9 344.5,1535.3 345.5,1546.2 346.5,1543.6 347.5,1547.4 348.5,1542.7 349.5,1542.5 350.5,1536.9 351.5,1532.9 352.5,1534.8 353.5,1531.6 354.5,1534 355.5,1540.5 356.5,1548.2 357.5,1549.8 358.5,1551 359.5,1548.1 360.5,1541.2 361.5,1535.9 362.5,1538.2 363.5,1533.4 364.5,1534 365.5,1533.2 366.5,1535.8 367.5,1540.4 368.5,1542.8 369.5,1542.3 370.5,1543.1 371.5,1534.4 372.5,1527.2 373.5,1529.2 374.5,1528.2 375.5,1533.4 376.5,1533.4 377.5,1527 378.5,1523.5 379.5,1524.7 380.5,1529.2 381.5,1534.2 382.5,1531.7 383.5,1528.7 384.5,1533.8 385.5,1535.7 386.5,1542.2 387.5,1549.4 388.5,1544.8 389.5,1535.5 390.5,1534.3 391.5,1531.7 392.5,1535.5 393.5,1538.7 394.5,1548.6 395.5,1547 396.5,1553.9 397.5,1550.8 398.5,1555.3 399.5,1551.7 400.5,1543.4 401.5,1534.5 402.5,1532.2 403.5,1543 404.5,1548 405.5,1553.3 406.5,1551.7 407.5,1554.6 408.5,1543.1 409.5,1535.5 410.5,1527.3 411.5,1529.2 412.5,1531.9 413.5,1541.3 414.5,1550.9 415.5,1551.1 416.5,1547.3 417.5,1550.5 418.5,1546.6 419.5,1548 420.5,1537.6 421.5,1537.2 422.5,1534.4 423.5,1541.8 424.5,1544.7 425.5,1544.2 426.5,1536.3 427.5,1533.3 428.5,1529.8 429.5,1531.9 430.5,1537.8 431.5,1544.8 432.5,1534.5 433.5,1523 434.5,1523.1 435.5,1517.4 436.5,1525.8 437.5,1532.3 438.5,1535.4 439.5,1535.7 440.5,1545 441.5,1547.1 442.5,1550.4 443.5,1548.2 444.5,1548.7 445.5,1551.5 446.5,1553.4 447.5,1546.2 448.5,1535.9 449.5,1530.9 450.5,1523.5 451.5,1527.9 452.5,1534.4 453.5,1540.5 454.5,1538.1 455.5,1536.8 456.5,1524 457.5,1519.6 458.5,1517.7 459.5,1515.6 460.5,1523.3 461.5,1537.6 462.5,1537.4 463.5,1532.4 464.5,1521.6 465.5,1528 466.5,1535.6 467.5,1546.7 468.5,1551 469.5,1549.8 470.5,1546 471.5,1542.4 472.5,1532.5 473.5,1523.8 474.5,1516.7 475.5,1515.8 476.5,1525.5 477.5,1530.9 478.5,1531.8 479.5,1539.9 480.5,1546.8 481.5,1553.9 482.5,1553.8 483.5,1543.8 484.5,1533.5 485.5,1528.7 486.5,1528.4 487.5,1537.1 488.5,1538.2 489.5,1531.2 490.5,1532.5 491.5,1530.5 492.5,1531.8 493.5,1530.4 494.5,1533.2 495.5,1535 496.5,1536.4 497.5,1547.7 498.5,1545.3 499.5,1545.4 500.5,1533.2 501.5,1530.8 502.5,1532.9 503.5,1536.4 504.5,1536.9 505.5,1534.6 506.5,1539.9 507.5,1539.9 508.5,1537 509.5,1531.8 510.5,1536.3 511.5,1540.9 512.5,1534.9 513.5,1531.5 514.5,1529.1 515.5,1530.7 516.5,1533.7 517.5,1538.7 518.5,1536.3 519.5,1536.9 520.5,1539.6 521.5,1540.3 522.5,1541.6 523.5,1543.6 524.5,1544.6 525.5,1551.3 526.5,1549.1 527.5,1543.7 528.5,1533.8 529.5,1527.6 530.5,1521.8 531.5,1532.2 532.5,1534.6 533.5,1544.5 534.5,1549.5 535.5,1549.8 536.5,1549.6 537.5,1544.7 538.5,1536.8 539.5,1538 540.5,1532.1 541.5,1537.4 542.5,1543.1 543.5,1542.2 544.5,1549.3 545.5,1552 546.5,1551.7 547.5,1550.9 548.5,1543.9 549.5,1534.1 550.5,1524.7 551.5,1530.1 552.5,1544.6 553.5,1543.2 554.5,1533.3 555.5,1535.2 556.5,1531.6 557.5,1531.3 558.5,1529.7 559.5,1532.5 560.5,1535.6 561.5,1544.8 562.5,1549.7 563.5,1536.9 564.5,1518.4 565.5,1514.2 566.5,1508.7 567.5,1506.8 568.5,1521.3 569.5,1533.3 570.5,1535.7 571.5,1533.7 572.5,1535 573.5,1536.1 574.5,1533.8 575.5,1534.1 576.5,1537.1 577.5,1536.2 578.5,1530.1 579.5,1525.2 580.5,1512.3 581.5,1516.5 582.5,1523.6 583.5,1532.1 584.5,1547.4 585.5,1550.3 586.5,1550.8 587.5,1552.1 588.5,1549.2 589.5,1544.8 590.5,1538.3 591.5,1533.7 592.5,1535.1 593.5,1540.1 594.5,1541.7 595.5,1543.2 596.5,1534.2 597.5,1533 598.5,1525.3 599.5,1528.6 600.5,1535.9 601.5,1541.4 602.5,1536.6 603.5,1535.5 604.5,1531 605.5,1535.2 606.5,1540.1 607.5,1543.2 608.5,1530.6 609.5,1522.3 610.5,1518.3 611.5,1518.5 612.5,1521.1 613.5,1534.3 614.5,1541 615.5,1538.6 616.5,1534.9 617.5,1530.2 618.5,1538.5 619.5,1537.3 620.5,1536.5 621.5,1535.7 622.5,1540.5 623.5,1539.1 624.5,1535 625.5,1525.6 626.5,1526.1 627.5,1525.3 628.5,1534.1 629.5,1541.9 630.5,1545.7 631.5,1546.7 632.5,1541.1 633.5,1539.3 634.5,1542.1 635.5,1543.1 636.5,1547.3 637.5,1540.9 638.5,1534.3 639.5,1531.6 640.5,1532.8 641.5,1525.9 642.5,1524 643.5,1514.8 644.5,1519.7 645.5,1519.1 646.5,1528.5 647.5,1541.2 648.5,1549.4 649.5,1553.6 650.5,1544.1 651.5,1534 652.5,1529.4 653.5,1534 654.5,1537.5 655.5,1542.1 656.5,1547.4 657.5,1546.5 658.5,1544.1 659.5,1543.5 660.5,1539.2 661.5,1535.8 662.5,1532.5 663.5,1530.7 664.5,1535.1 665.5,1543.1 666.5,1543.6 667.5,1543.5 668.5,1548.9 669.5,1543.1 670.5,1537.8 671.5,1535.9 672.5,1545 673.5,1539.8 674.5,1537.4 675.5,1532 676.5,1537.7 677.5,1534.1 678.5,1534.4 679.5,1531 680.5,1531.6 681.5,1532.2 682.5,1543.8 683.5,1539.4 684.5,1533.4 685.5,1533.1 686.5,1529.2 687.5,1533.1 688.5,1532.7 689.5,1523.8 690.5,1518.2 691.5,1519.4 692.5,1526.6 693.5,1533.9 694.5,1540.5 695.5,1552.9 696.5,1541.7 697.5,1529.1 698.5,1525.8 699.5,1529.2 700.5,1528.9 701.5,1533.1 702.5,1535.4 703.5,1540.5 704.5,1548.1 705.5,1545.5 706.5,1541.4 707.5,1539.9 708.5,1534.5 709.5,1542.3 710.5,1542.9 711.5,1550.2 712.5,1552.9 713.5,1540.5 714.5,1531.6 715.5,1526.8 716.5,1535.6 717.5,1540.3 718.5,1536.7 719.5,1540.4 720.5,1540.4 721.5,1533.2 722.5,1534.4 723.5,1532.2 724.5,1537.1 725.5,1536.2 726.5,1536.2 727.5,1534.9 728.5,1542.3 729.5,1550.2 730.5,1552.7 731.5,1549.7 732.5,1544.5 733.5,1536.3 734.5,1528.7 735.5,1529.7 736.5,1532.1 737.5,1539.1 738.5,1541.5 739.5,1541.4 740.5,1532 741.5,1534.9 742.5,1533.3 743.5,1535.1 744.5,1527.2 745.5,1536.4 746.5,1541.9 747.5,1543.8 748.5,1547.1 749.5,1543.5 750.5,1544.4 751.5,1536.5 752.5,1521.4 753.5,1515.3 754.5,1508.4 755.5,1514.5 756.5,1526 757.5,1537.4 758.5,1536.7 759.5,1537.3 760.5,1536.5 761.5,1520.2 762.5,1518.2 763.5,1503.3 764.5,1507.9 765.5,1518.8 766.5,1525.6 767.5,1533 768.5,1525.1 769.5,1530.6 770.5,1534.8 771.5,1534.7 772.5,1536.7 773.5,1540.8 774.5,1540.1 775.5,1536.4 776.5,1529.7 777.5,1532 778.5,1538.7 779.5,1539.7 780.5,1529.5 781.5,1517.8 782.5,1513.4 783.5,1517 784.5,1520.9 785.5,1535.7 786.5,1538 787.5,1538.2 788.5,1536.1 789.5,1544.1 790.5,1547.1 791.5,1548.9 792.5,1545.7 793.5,1544.9 794.5,1536.7 795.5,1536.4 796.5,1534 797.5,1541.7 798.5,1546.8 799.5,1537.7 800.5,1531.6 801.5,1536.9 802.5,1536.3 803.5,1548.1 804.5,1551.1 805.5,1545.8 806.5,1547.3 807.5,1542.5 808.5,1546.2 809.5,1541.8 810.5,1544.2 811.5,1541 812.5,1539.1 813.5,1538.8 814.5,1535.1 815.5,1539.1 816.5,1544.8 817.5,1547.6 818.5,1542.3 819.5,1533 820.5,1532.4 821.5,1528.8 822.5,1528.4 823.5,1536.6 824.5,1537.7 825.5,1543.4 826.5,1542.2 827.5,1541.9 828.5,1534.4 829.5,1537.4 830.5,1529.5 831.5,1532.8 832.5,1535.3 833.5,1538.9 834.5,1540.6 835.5,1540.6 836.5,1539.2 837.5,1542.3 838.5,1541.1 839.5,1543.6 840.5,1532.9 841.5,1527.3 842.5,1519.3 843.5,1518 844.5,1513.9 845.5,1521.1 846.5,1535.9 847.5,1540.9 848.5,1552.6 849.5,1539.6 850.5,1533.5 851.5,1532.2 852.5,1537.8 853.5,1543.1 854.5,1548 855.5,1542.7 856.5,1538.8 857.5,1529.1 858.5,1531.1 859.5,1543.6 860.5,1548.5 861.5,1552.7 862.5,1552.6 863.5,1538.4 864.5,1532 865.5,1517.7 866.5,1507.3 867.5,1507.5 868.5,1518.8 869.5,1531.3 870.5,1529.9 871.5,1535.2 872.5,1541.7 873.5,1553.5 874.5,1548.1 875.5,1548.4 876.5,1544.8 877.5,1541.5 878.5,1534.3 879.5,1538.1 880.5,1541.3 881.5,1539.6 882.5,1537.1 883.5,1535.4 884.5,1529 885.5,1526.2 886.5,1525 887.5,1533.2 888.5,1532.2 889.5,1526.7 890.5,1530.8 891.5,1535.6 892.5,1540 893.5,1534.7 894.5,1536.9 895.5,1531.6 896.5,1535.8 897.5,1533.6 898.5,1520.7 899.5,1510.2 900.5,1519.3 901.5,1517.4 902.5,1532 903.5,1540.3 904.5,1540.5 905.5,1536.3 906.5,1532.6 907.5,1530.2 908.5,1528 909.5,1537.6 910.5,1534.6 911.5,1528.6 912.5,1517.5 913.5,1508.8 914.5,1510.1 915.5,1515.8 916.5,1525.8 917.5,1527.1 918.5,1530.7 919.5,1533.1 920.5,1539.2 921.5,1542.6 922.5,1549.8 923.5,1546.9 924.5,1548.4 925.5,1549.6 926.5,1549.4 927.5,1550.8 928.5,1546.8 929.5,1552.7 929.3,1580.5" fill="#0071c1"/><g fill="#0071c1"><circle cx="179.5" cy="1459.3" r="1.4"/><circle cx="158" cy="1485.9" r="1.4"/><circle cx="171" cy="1488.6" r="1.4"/><circle cx="193" cy="1496.5" r="1.4"/><circle cx="244" cy="1509.8" r="1.4"/><circle cx="261" cy="1505.8" r="1.4"/><circle cx="265" cy="1499.2" r="1.4"/><circle cx="283" cy="1501.9" r="1.4"/><circle cx="297.5" cy="1517.8" r="1.4"/><circle cx="375" cy="1504.5" r="1.4"/><circle cx="381" cy="1475.3" r="1.4"/><circle cx="382" cy="1446" r="1.4"/><circle cx="382" cy="1435.4" r="1.4"/><circle cx="382" cy="1379.5" r="1.4"/><circle cx="368" cy="1476.6" r="1.4"/><circle cx="302" cy="1515.2" r="1.4"/><circle cx="344" cy="1519.2" r="1.4"/><circle cx="350" cy="1515.2" r="1.4"/><circle cx="401" cy="1512.5" r="1.4"/><circle cx="412" cy="1519.2" r="1.4"/><circle cx="458" cy="1492.5" r="1.4"/><circle cx="475" cy="1497.9" r="1.4"/><circle cx="470" cy="1503.2" r="1.4"/><circle cx="497" cy="1499.2" r="1.4"/><circle cx="545" cy="1500.5" r="1.4"/><circle cx="557" cy="1505.8" r="1.4"/><circle cx="586" cy="1503.2" r="1.4"/><circle cx="599" cy="1504.5" r="1.4"/><circle cx="620" cy="1504.5" r="1.4"/><circle cx="637" cy="1504.5" r="1.4"/><circle cx="656" cy="1512.5" r="1.4"/><circle cx="643" cy="1468.6" r="1.4"/><circle cx="643" cy="1472.6" r="1.4"/><circle cx="644" cy="1476.6" r="1.4"/><circle cx="745" cy="1466" r="1.4"/><circle cx="765" cy="1464.6" r="1.4"/><circle cx="765" cy="1370.2" r="1.4"/><circle cx="765" cy="1315.7" r="1.4"/><circle cx="765" cy="1488.6" r="1.4"/><circle cx="781" cy="1491.2" r="1.4"/><circle cx="783" cy="1479.2" r="1.4"/><circle cx="803" cy="1496.5" r="1.4"/><circle cx="843" cy="1475.3" r="1.4"/><circle cx="866" cy="1505.8" r="1.4"/><circle cx="906" cy="1485.9" r="1.4"/><circle cx="914" cy="1488.6" r="1.4"/><circle cx="905" cy="1483.2" r="1.4"/><circle cx="706" cy="1525.8" r="1.4"/><circle cx="764" cy="1499.2" r="1.4"/><circle cx="764.9" cy="1493.2" r="1.4"/><circle cx="764.9" cy="1487.2" r="1.4"/><circle cx="764" cy="1481.2" r="1.4"/><circle cx="765" cy="1475.3" r="1.4"/><circle cx="764.4" cy="1469.3" r="1.4"/><circle cx="843.3" cy="1520.5" r="1.4"/><circle cx="843.5" cy="1515.2" r="1.4"/><circle cx="844.1" cy="1509.8" r="1.4"/><circle cx="843.4" cy="1504.5" r="1.4"/><circle cx="843.4" cy="1499.2" r="1.4"/><circle cx="843.1" cy="1493.9" r="1.4"/><circle cx="843.9" cy="1488.6" r="1.4"/><circle cx="843.4" cy="1483.2" r="1.4"/><circle cx="843.1" cy="1477.9" r="1.4"/><circle cx="179" cy="1485.9" r="1.4"/><circle cx="179" cy="1481.9" r="1.4"/><circle cx="180" cy="1477.9" r="1.4"/><circle cx="180" cy="1473.9" r="1.4"/><circle cx="180.3" cy="1469.9" r="1.4"/><circle cx="180.2" cy="1466" r="1.4"/><circle cx="179.8" cy="1462" r="1.4"/><circle cx="180" cy="1458" r="1.4"/><circle cx="644.3" cy="1509.8" r="1.4"/><circle cx="644.5" cy="1504.5" r="1.4"/><circle cx="644.5" cy="1499.2" r="1.4"/><circle cx="643.5" cy="1493.9" r="1.4"/><circle cx="567.1" cy="1505.8" r="1.4"/><circle cx="566.3" cy="1501.2" r="1.4"/><circle cx="566.2" cy="1496.5" r="1.4"/><circle cx="914.7" cy="1509.8" r="1.4"/><circle cx="913.2" cy="1504.5" r="1.4"/><circle cx="914" cy="1499.2" r="1.4"/><circle cx="381.7" cy="1499.2" r="1.4"/><circle cx="382.5" cy="1491.2" r="1.4"/><circle cx="382.2" cy="1483.2" r="1.4"/><circle cx="382.7" cy="1475.3" r="1.4"/><circle cx="460.3" cy="1511.5" r="1.4"/><circle cx="284.3" cy="1536.3" r="1.4"/><circle cx="738.6" cy="1536.8" r="1.4"/><circle cx="444" cy="1535.5" r="1.4"/><circle cx="565.6" cy="1486.3" r="1.4"/><circle cx="527" cy="1542" r="1.4"/><circle cx="623.9" cy="1534.8" r="1.4"/><circle cx="849.7" cy="1533.2" r="1.4"/><circle cx="447.9" cy="1533.5" r="1.4"/><circle cx="263.5" cy="1522.4" r="1.4"/><circle cx="809" cy="1540.3" r="1.4"/><circle cx="884.8" cy="1520" r="1.4"/><circle cx="750" cy="1535.6" r="1.4"/><circle cx="459.3" cy="1512.8" r="1.4"/><circle cx="150.5" cy="1537.6" r="1.4"/><circle cx="918.1" cy="1517.9" r="1.4"/><circle cx="505.8" cy="1511.1" r="1.4"/><circle cx="617.9" cy="1493.2" r="1.4"/><circle cx="424" cy="1537.5" r="1.4"/><circle cx="864.4" cy="1534.8" r="1.4"/><circle cx="763.6" cy="1492.9" r="1.4"/><circle cx="912.9" cy="1488.6" r="1.4"/><circle cx="660.7" cy="1536.9" r="1.4"/><circle cx="162.7" cy="1532.7" r="1.4"/><circle cx="785.3" cy="1518.1" r="1.4"/><circle cx="477.1" cy="1522.7" r="1.4"/><circle cx="386.7" cy="1540.2" r="1.4"/><circle cx="402.3" cy="1525.6" r="1.4"/><circle cx="301.5" cy="1527" r="1.4"/><circle cx="187.8" cy="1528.4" r="1.4"/><circle cx="345.9" cy="1539.4" r="1.4"/><circle cx="741.6" cy="1528.9" r="1.4"/><circle cx="687.9" cy="1507.4" r="1.4"/><circle cx="246.9" cy="1528.7" r="1.4"/><circle cx="613.3" cy="1506.3" r="1.4"/><circle cx="619.9" cy="1530.4" r="1.4"/><circle cx="219.9" cy="1529.8" r="1.4"/><circle cx="280.6" cy="1517.4" r="1.4"/><circle cx="258.3" cy="1523.9" r="1.4"/><circle cx="583.1" cy="1507.9" r="1.4"/><circle cx="768.3" cy="1513.6" r="1.4"/><circle cx="236.1" cy="1509.5" r="1.4"/><circle cx="289.9" cy="1528" r="1.4"/><circle cx="369.4" cy="1532.6" r="1.4"/><circle cx="181.8" cy="1488.8" r="1.4"/><circle cx="456.5" cy="1505.9" r="1.4"/><circle cx="456.8" cy="1517" r="1.4"/><circle cx="434.5" cy="1520.2" r="1.4"/><circle cx="832.1" cy="1506.9" r="1.4"/><circle cx="708.7" cy="1527.7" r="1.4"/><circle cx="491.6" cy="1525" r="1.4"/><circle cx="656.1" cy="1530.3" r="1.4"/><circle cx="387.4" cy="1520.9" r="1.4"/><circle cx="708" cy="1535.6" r="1.4"/><circle cx="777.2" cy="1517.3" r="1.4"/><circle cx="339.7" cy="1526.3" r="1.4"/><circle cx="732" cy="1546.9" r="1.4"/><circle cx="486.8" cy="1495.5" r="1.4"/><circle cx="344.8" cy="1526.8" r="1.4"/><circle cx="853.8" cy="1521.8" r="1.4"/><circle cx="760.7" cy="1527.4" r="1.4"/><circle cx="871.4" cy="1525.2" r="1.4"/><circle cx="833.7" cy="1532" r="1.4"/><circle cx="659.1" cy="1533.3" r="1.4"/><circle cx="365.2" cy="1521.4" r="1.4"/><circle cx="616.9" cy="1492.2" r="1.4"/><circle cx="665.8" cy="1535.7" r="1.4"/><circle cx="441.4" cy="1522.7" r="1.4"/><circle cx="414.5" cy="1538.7" r="1.4"/><circle cx="687.3" cy="1496.1" r="1.4"/><circle cx="295.6" cy="1519.5" r="1.4"/><circle cx="278.7" cy="1497.7" r="1.4"/><circle cx="658.3" cy="1531.8" r="1.4"/><circle cx="821.8" cy="1524.4" r="1.4"/><circle cx="817.2" cy="1538.8" r="1.4"/><circle cx="457.1" cy="1520.9" r="1.4"/><circle cx="560.2" cy="1530.5" r="1.4"/><circle cx="387.3" cy="1529.8" r="1.4"/><circle cx="728.9" cy="1538.6" r="1.4"/><circle cx="758.1" cy="1530" r="1.4"/><circle cx="305" cy="1517.3" r="1.4"/><circle cx="722.2" cy="1525.3" r="1.4"/><circle cx="559.7" cy="1521.5" r="1.4"/><circle cx="638.4" cy="1525.4" r="1.4"/><circle cx="745.7" cy="1532.3" r="1.4"/><circle cx="160.6" cy="1530.3" r="1.4"/><circle cx="384.9" cy="1523.7" r="1.4"/><circle cx="895.9" cy="1524.6" r="1.4"/><circle cx="433.2" cy="1524.9" r="1.4"/><circle cx="885.9" cy="1515.9" r="1.4"/><circle cx="375.3" cy="1513" r="1.4"/><circle cx="919.9" cy="1516.4" r="1.4"/><circle cx="456" cy="1533" r="1.4"/><circle cx="504.8" cy="1533.7" r="1.4"/><circle cx="246.7" cy="1541.8" r="1.4"/><circle cx="809.2" cy="1532.9" r="1.4"/><circle cx="471.4" cy="1515.2" r="1.4"/><circle cx="284.3" cy="1536.3" r="1.4"/><circle cx="358.4" cy="1539.9" r="1.4"/><circle cx="840.1" cy="1537.1" r="1.4"/><circle cx="790.8" cy="1519.4" r="1.4"/><circle cx="519.1" cy="1513.5" r="1.4"/><circle cx="839.7" cy="1535.5" r="1.4"/><circle cx="277" cy="1527.7" r="1.4"/><circle cx="331.8" cy="1529" r="1.4"/><circle cx="156.5" cy="1520" r="1.4"/><circle cx="530.8" cy="1516" r="1.4"/><circle cx="718.1" cy="1530.5" r="1.4"/><circle cx="561.2" cy="1524.3" r="1.4"/><circle cx="600.2" cy="1521.6" r="1.4"/></g><path d="M297.9 1180 v4 M454.4 1180 v4 M610.8 1180 v4 M767.3 1180 v4 M923.8 1180 v4 M141.5 1446 h4 M141.5 1313 h4" stroke="#4a4a4a" stroke-width="1.8"/><text x="124.5" y="1591.3" text-anchor="end" class="tkB">0</text><text x="121.8" y="1458.3" text-anchor="end" class="tkB">100</text><text x="121.8" y="1325.3" text-anchor="end" class="tkB">200</text><text x="121.8" y="1192.3" text-anchor="end" class="tkB">300</text><text x="296.4" y="1631.4" text-anchor="middle" class="tkB">2</text><text x="452.9" y="1631.4" text-anchor="middle" class="tkB">4</text><text x="609.3" y="1631.4" text-anchor="middle" class="tkB">6</text><text x="765.8" y="1631.4" text-anchor="middle" class="tkB">8</text><text x="914" y="1639.6" text-anchor="middle" class="tkB">10</text><text x="847" y="1687.5" class="tkB">×</text><text x="872.5" y="1687.5" class="tkB">10</text><text x="911.5" y="1672.3" class="tkS">5</text><text x="473" y="1682" class="tkB" textLength="120" lengthAdjust="spacingAndGlyphs">All PCs</text><g transform="translate(47.4 1531) rotate(-90)" class="ylB"><text x="0" y="0" textLength="217" lengthAdjust="spacingAndGlyphs">PC amplitude</text><text x="229" y="0" class="tx">(</text><text x="245.5" y="0" class="tx" font-style="italic" textLength="23" lengthAdjust="spacingAndGlyphs">μ</text><text x="269" y="0" textLength="23" lengthAdjust="spacingAndGlyphs" font-size="39px">V</text><text x="293.5" y="0" class="tx">)</text></g><g fill="#e89676" stroke="#2b1a12" stroke-width="2"><rect x="929.3" y="1455" width="64" height="8.9"/><rect x="929.3" y="1463.9" width="111.8" height="8.9"/><rect x="929.3" y="1472.7" width="132.3" height="8.9"/><rect x="929.3" y="1481.6" width="195.5" height="8.9"/><rect x="929.3" y="1490.4" width="187.1" height="8.9"/><rect x="929.3" y="1499.3" width="240" height="8.9"/><rect x="929.3" y="1508.1" width="286.4" height="8.9"/><rect x="929.3" y="1517" width="326.2" height="8.9"/><rect x="929.3" y="1525.9" width="390.7" height="8.9"/><rect x="929.3" y="1534.7" width="451.4" height="8.9"/><rect x="929.3" y="1543.6" width="519.7" height="8.9"/><rect x="929.3" y="1552.4" width="587.6" height="8.9"/><rect x="929.3" y="1561.3" width="637.9" height="8.9"/><rect x="929.3" y="1570.1" width="787.6" height="8.9"/></g><g stroke="#4a4a4a" stroke-width="2.3" fill="none"><path d="M929.3 1579 V1180 H1716.9 V1579"/></g><path d="M929.3 1579 H1716.9" stroke="#2b1a12" stroke-width="2.2"/><path d="M929.3 1180 v6.5 M929.3 1579 v-6.5 M969.2 1180 v4 M969.2 1579 v-4 M992.5 1180 v4 M992.5 1579 v-4 M1009.1 1180 v4 M1009.1 1579 v-4 M1021.9 1180 v4 M1021.9 1579 v-4 M1032.4 1180 v4 M1032.4 1579 v-4 M1041.3 1180 v4 M1041.3 1579 v-4 M1049 1180 v4 M1049 1579 v-4 M1055.7 1180 v4 M1055.7 1579 v-4 M1061.8 1180 v4 M1061.8 1579 v-4 M1101.7 1180 v4 M1101.7 1579 v-4 M1125 1180 v4 M1125 1579 v-4 M1141.6 1180 v4 M1141.6 1579 v-4 M1154.4 1180 v4 M1154.4 1579 v-4 M1164.9 1180 v4 M1164.9 1579 v-4 M1173.8 1180 v4 M1173.8 1579 v-4 M1181.5 1180 v4 M1181.5 1579 v-4 M1188.2 1180 v4 M1188.2 1579 v-4 M1194.3 1180 v6.5 M1194.3 1579 v-6.5 M1234.2 1180 v4 M1234.2 1579 v-4 M1257.5 1180 v4 M1257.5 1579 v-4 M1274.1 1180 v4 M1274.1 1579 v-4 M1286.9 1180 v4 M1286.9 1579 v-4 M1297.4 1180 v4 M1297.4 1579 v-4 M1306.3 1180 v4 M1306.3 1579 v-4 M1314 1180 v4 M1314 1579 v-4 M1320.7 1180 v4 M1320.7 1579 v-4 M1326.8 1180 v4 M1326.8 1579 v-4 M1366.7 1180 v4 M1366.7 1579 v-4 M1390 1180 v4 M1390 1579 v-4 M1406.6 1180 v4 M1406.6 1579 v-4 M1419.4 1180 v4 M1419.4 1579 v-4 M1429.9 1180 v4 M1429.9 1579 v-4 M1438.8 1180 v4 M1438.8 1579 v-4 M1446.5 1180 v4 M1446.5 1579 v-4 M1453.2 1180 v4 M1453.2 1579 v-4 M1459.3 1180 v6.5 M1459.3 1579 v-6.5 M1499.2 1180 v4 M1499.2 1579 v-4 M1522.5 1180 v4 M1522.5 1579 v-4 M1539.1 1180 v4 M1539.1 1579 v-4 M1551.9 1180 v4 M1551.9 1579 v-4 M1562.4 1180 v4 M1562.4 1579 v-4 M1571.3 1180 v4 M1571.3 1579 v-4 M1579 1180 v4 M1579 1579 v-4 M1585.7 1180 v4 M1585.7 1579 v-4 M1591.8 1180 v4 M1591.8 1579 v-4 M1631.7 1180 v4 M1631.7 1579 v-4 M1655 1180 v4 M1655 1579 v-4 M1671.6 1180 v4 M1671.6 1579 v-4 M1684.4 1180 v4 M1684.4 1579 v-4 M1694.9 1180 v4 M1694.9 1579 v-4 M1703.8 1180 v4 M1703.8 1579 v-4 M1711.5 1180 v4 M1711.5 1579 v-4 M929.3 1446 h-7 M929.3 1446 h7 M1716.9 1446 h-7 M929.3 1313 h-7 M929.3 1313 h7 M1716.9 1313 h-7" stroke="#4a4a4a" stroke-width="1.5"/><text x="929.3" y="1630.6" text-anchor="middle" class="tkC">10<tspan dy="-8.1" class="tkCs">-6</tspan></text><text x="1194.3" y="1639.2" text-anchor="middle" class="tkC">10<tspan dy="-16.6" class="tkCs">-4</tspan></text><text x="1459.3" y="1639.2" text-anchor="middle" class="tkC">10<tspan dy="-16.6" class="tkCs">-2</tspan></text><text x="1235" y="1688" class="tkB" textLength="172" lengthAdjust="spacingAndGlyphs">Probability</text></svg></body></html>
